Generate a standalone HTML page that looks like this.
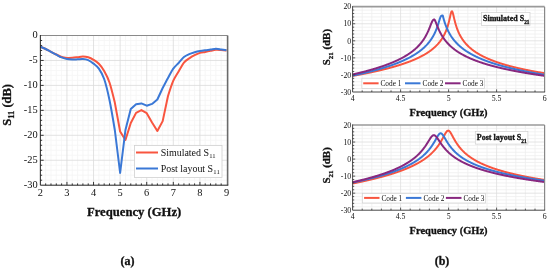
<!DOCTYPE html>
<html><head><meta charset="utf-8"><style>
html,body{margin:0;padding:0;background:#fff}
body{width:550px;height:269px;overflow:hidden}
svg{display:block}
.t{font-family:"Liberation Serif","Times New Roman",serif;fill:#111}
.b{font-weight:bold;stroke:#111;stroke-width:0.3px}
</style></head><body>
<svg width="550" height="269" viewBox="0 0 550 269">
<rect width="550" height="269" fill="#fff"/>
<path d="M45.67,35.5V185.2M50.99,35.5V185.2M56.31,35.5V185.2M61.62,35.5V185.2M72.26,35.5V185.2M77.58,35.5V185.2M82.9,35.5V185.2M88.22,35.5V185.2M98.85,35.5V185.2M104.17,35.5V185.2M109.49,35.5V185.2M114.81,35.5V185.2M125.45,35.5V185.2M130.77,35.5V185.2M136.08,35.5V185.2M141.4,35.5V185.2M152.04,35.5V185.2M157.36,35.5V185.2M162.68,35.5V185.2M168,35.5V185.2M178.63,35.5V185.2M183.95,35.5V185.2M189.27,35.5V185.2M194.59,35.5V185.2M205.23,35.5V185.2M210.54,35.5V185.2M215.86,35.5V185.2M221.18,35.5V185.2M40.35,40.49H227.6M40.35,45.48H227.6M40.35,50.47H227.6M40.35,55.46H227.6M40.35,65.44H227.6M40.35,70.43H227.6M40.35,75.42H227.6M40.35,80.41H227.6M40.35,90.39H227.6M40.35,95.38H227.6M40.35,100.37H227.6M40.35,105.36H227.6M40.35,115.34H227.6M40.35,120.33H227.6M40.35,125.32H227.6M40.35,130.31H227.6M40.35,140.29H227.6M40.35,145.28H227.6M40.35,150.27H227.6M40.35,155.26H227.6M40.35,165.24H227.6M40.35,170.23H227.6M40.35,175.22H227.6M40.35,180.21H227.6" stroke="#f5f5f5" stroke-width="0.8" fill="none"/>
<path d="M66.94,35.5V185.2M93.54,35.5V185.2M120.13,35.5V185.2M146.72,35.5V185.2M173.31,35.5V185.2M199.91,35.5V185.2M40.35,60.45H227.6M40.35,85.4H227.6M40.35,110.35H227.6M40.35,135.3H227.6M40.35,160.25H227.6" stroke="#dadada" stroke-width="0.8" fill="none"/>
<path d="M40.35,46.7 C40.35,46.7 43.9,48.15 45.67,49 C47.44,49.85 49.21,50.88 50.99,51.8 C52.76,52.72 54.53,53.63 56.31,54.5 C58.08,55.37 59.85,56.43 61.62,57 C63.4,57.57 65.17,57.77 66.94,57.9 C68.72,58.03 70.49,57.92 72.26,57.8 C74.03,57.68 75.81,57.42 77.58,57.2 C79.35,56.98 81.13,56.48 82.9,56.5 C84.67,56.52 86.44,56.75 88.22,57.3 C89.99,57.85 91.76,58.72 93.54,59.8 C95.31,60.88 97.08,61.93 98.85,63.8 C100.63,65.67 102.4,67.88 104.17,71 C105.95,74.12 107.72,77.23 109.49,82.5 C111.26,87.77 114.81,102.6 114.81,102.6 C114.81,102.6 120.13,131.5 120.13,131.5 C120.13,131.5 125.45,140 125.45,140 C125.45,140 130.77,123 130.77,123 C130.77,123 136.08,112.9 136.08,112.9 C136.08,112.9 141.4,110.1 141.4,110.1 C141.4,110.1 146.72,113.2 146.72,113.2 C146.72,113.2 152.04,122.5 152.04,122.5 C152.04,122.5 157.36,131 157.36,131 C157.36,131 162.68,121.1 162.68,121.1 C162.68,121.1 168,96 168,96 C168,96 171.54,84.8 173.31,80.7 C175.09,76.6 176.86,74.4 178.63,71.4 C180.41,68.4 182.18,64.87 183.95,62.7 C185.72,60.53 187.5,59.65 189.27,58.4 C191.04,57.15 192.82,56.12 194.59,55.2 C196.36,54.28 198.13,53.45 199.91,52.9 C201.68,52.35 203.45,52.25 205.23,51.9 C207,51.55 208.77,51.15 210.54,50.8 C212.32,50.45 214.09,49.93 215.86,49.8 C217.64,49.67 219.41,49.87 221.18,50 C222.95,50.13 226.5,50.6 226.5,50.6" stroke="#F8553F" stroke-width="2" fill="none" stroke-linejoin="round"/>
<path d="M40.35,46.7 C40.35,46.7 43.9,48.13 45.67,49 C47.44,49.87 49.21,50.95 50.99,51.9 C52.76,52.85 54.53,53.78 56.31,54.7 C58.08,55.62 59.85,56.67 61.62,57.4 C63.4,58.13 65.17,58.75 66.94,59.1 C68.72,59.45 70.49,59.47 72.26,59.5 C74.03,59.53 75.81,59.38 77.58,59.3 C79.35,59.22 81.13,58.87 82.9,59 C84.67,59.13 86.44,59.33 88.22,60.1 C89.99,60.87 91.76,62.18 93.54,63.6 C95.31,65.02 97.08,66.03 98.85,68.6 C100.63,71.17 102.4,73.77 104.17,79 C105.95,84.23 107.72,91.5 109.49,100 C111.26,108.5 114.81,130 114.81,130 C114.81,130 120.13,173 120.13,173 C120.13,173 125.45,130 125.45,130 C125.45,130 130.77,109 130.77,109 C130.77,109 136.08,104.2 136.08,104.2 C136.08,104.2 141.4,103.4 141.4,103.4 C141.4,103.4 146.72,105.7 146.72,105.7 C146.72,105.7 152.04,103.9 152.04,103.9 C152.04,103.9 157.36,99.5 157.36,99.5 C157.36,99.5 162.68,88 162.68,88 C162.68,88 166.22,81.13 168,77.9 C169.77,74.67 171.54,71.08 173.31,68.6 C175.09,66.12 176.86,64.92 178.63,63 C180.41,61.08 182.18,58.58 183.95,57.1 C185.72,55.62 187.5,54.9 189.27,54.1 C191.04,53.3 192.82,52.82 194.59,52.3 C196.36,51.78 198.13,51.35 199.91,51 C201.68,50.65 203.45,50.43 205.23,50.2 C207,49.97 208.77,49.83 210.54,49.6 C212.32,49.37 214.09,48.83 215.86,48.8 C217.64,48.77 219.41,49.17 221.18,49.4 C222.95,49.63 226.5,50.2 226.5,50.2" stroke="#3A78D6" stroke-width="2" fill="none" stroke-linejoin="round"/>
<rect x="134.5" y="145.5" width="87.5" height="32" fill="#fff" stroke="#d0d0d0" stroke-width="0.8"/>
<path d="M136,152.5H158" stroke="#F8553F" stroke-width="2"/>
<path d="M136,168.5H158" stroke="#3A78D6" stroke-width="2"/>
<text x="160.7" y="156.1" class="t" font-size="9.95">Simulated S<tspan font-size="6.6" dy="2.3" dx="0.2">11</tspan></text>
<text x="160.7" y="172.1" class="t" font-size="9.95">Post layout S<tspan font-size="6.6" dy="2.3" dx="0.2">11</tspan></text>
<path d="M40.35,35.5H227.6" stroke="#8a8a8a" stroke-width="1"/>
<path d="M227.6,35.5V185.2" stroke="#6a6a6a" stroke-width="1.6"/>
<path d="M40.35,35V185.2" stroke="#222" stroke-width="1"/>
<path d="M40.35,185.2H228.3" stroke="#222" stroke-width="1"/>
<path d="M40.35,40.49h1.8M40.35,45.48h1.8M40.35,50.47h1.8M40.35,55.46h1.8M40.35,60.45h3.3M40.35,65.44h1.8M40.35,70.43h1.8M40.35,75.42h1.8M40.35,80.41h1.8M40.35,85.4h3.3M40.35,90.39h1.8M40.35,95.38h1.8M40.35,100.37h1.8M40.35,105.36h1.8M40.35,110.35h3.3M40.35,115.34h1.8M40.35,120.33h1.8M40.35,125.32h1.8M40.35,130.31h1.8M40.35,135.3h3.3M40.35,140.29h1.8M40.35,145.28h1.8M40.35,150.27h1.8M40.35,155.26h1.8M40.35,160.25h3.3M40.35,165.24h1.8M40.35,170.23h1.8M40.35,175.22h1.8M40.35,180.21h1.8M45.67,185.2v-1.8M50.99,185.2v-1.8M56.31,185.2v-1.8M61.62,185.2v-1.8M66.94,185.2v-3.3M72.26,185.2v-1.8M77.58,185.2v-1.8M82.9,185.2v-1.8M88.22,185.2v-1.8M93.54,185.2v-3.3M98.85,185.2v-1.8M104.17,185.2v-1.8M109.49,185.2v-1.8M114.81,185.2v-1.8M120.13,185.2v-3.3M125.45,185.2v-1.8M130.77,185.2v-1.8M136.08,185.2v-1.8M141.4,185.2v-1.8M146.72,185.2v-3.3M152.04,185.2v-1.8M157.36,185.2v-1.8M162.68,185.2v-1.8M168,185.2v-1.8M173.31,185.2v-3.3M178.63,185.2v-1.8M183.95,185.2v-1.8M189.27,185.2v-1.8M194.59,185.2v-1.8M199.91,185.2v-3.3M205.23,185.2v-1.8M210.54,185.2v-1.8M215.86,185.2v-1.8M221.18,185.2v-1.8" stroke="#222" stroke-width="0.9"/>
<text x="37.7" y="38.1" class="t" font-size="10.4" text-anchor="end">0</text>
<text x="37.7" y="63.05" class="t" font-size="10.4" text-anchor="end">-5</text>
<text x="37.7" y="88" class="t" font-size="10.4" text-anchor="end">-10</text>
<text x="37.7" y="112.95" class="t" font-size="10.4" text-anchor="end">-15</text>
<text x="37.7" y="137.9" class="t" font-size="10.4" text-anchor="end">-20</text>
<text x="37.7" y="162.85" class="t" font-size="10.4" text-anchor="end">-25</text>
<text x="37.7" y="187.8" class="t" font-size="10.4" text-anchor="end">-30</text>
<text x="40.35" y="196.3" class="t" font-size="10.4" text-anchor="middle">2</text>
<text x="66.94" y="196.3" class="t" font-size="10.4" text-anchor="middle">3</text>
<text x="93.54" y="196.3" class="t" font-size="10.4" text-anchor="middle">4</text>
<text x="120.13" y="196.3" class="t" font-size="10.4" text-anchor="middle">5</text>
<text x="146.72" y="196.3" class="t" font-size="10.4" text-anchor="middle">6</text>
<text x="173.31" y="196.3" class="t" font-size="10.4" text-anchor="middle">7</text>
<text x="199.91" y="196.3" class="t" font-size="10.4" text-anchor="middle">8</text>
<text x="226.5" y="196.3" class="t" font-size="10.4" text-anchor="middle">9</text>
<text x="87" y="216.1" class="t b" font-size="12.65">Frequency (GHz)</text>
<text transform="translate(11.3,125.7) rotate(-90)" class="t b" font-size="12.5">S<tspan font-size="8.5" dy="3">11</tspan><tspan dy="-3"> (dB)</tspan></text>
<text x="127.6" y="264.6" class="t b" font-size="12" text-anchor="middle">(a)</text>
<path d="M362.2,6.7V92M371.8,6.7V92M381.4,6.7V92M391,6.7V92M410.2,6.7V92M419.8,6.7V92M429.4,6.7V92M439,6.7V92M458.2,6.7V92M467.8,6.7V92M477.4,6.7V92M487,6.7V92M506.2,6.7V92M515.8,6.7V92M525.4,6.7V92M535,6.7V92M352.6,88.59H544.6M352.6,85.18H544.6M352.6,81.76H544.6M352.6,78.35H544.6M352.6,71.53H544.6M352.6,68.12H544.6M352.6,64.7H544.6M352.6,61.29H544.6M352.6,54.47H544.6M352.6,51.06H544.6M352.6,47.64H544.6M352.6,44.23H544.6M352.6,37.41H544.6M352.6,34H544.6M352.6,30.58H544.6M352.6,27.17H544.6M352.6,20.35H544.6M352.6,16.94H544.6M352.6,13.52H544.6M352.6,10.11H544.6" stroke="#efefef" stroke-width="0.8" fill="none"/>
<path d="M400.6,6.7V92M448.6,6.7V92M496.6,6.7V92M352.6,74.94H544.6M352.6,57.88H544.6M352.6,40.82H544.6M352.6,23.76H544.6" stroke="#dedede" stroke-width="0.8" fill="none"/>
<path d="M352.6,75.89 L352.84,75.84 L353.08,75.8 L353.32,75.76 L353.56,75.72 L353.8,75.67 L354.04,75.63 L354.28,75.59 L354.52,75.54 L354.76,75.5 L355,75.46 L355.24,75.41 L355.48,75.37 L355.72,75.32 L355.96,75.28 L356.2,75.24 L356.44,75.19 L356.68,75.15 L356.92,75.1 L357.16,75.06 L357.4,75.01 L357.64,74.97 L357.88,74.93 L358.12,74.88 L358.36,74.84 L358.6,74.79 L358.84,74.75 L359.08,74.7 L359.32,74.65 L359.56,74.61 L359.8,74.56 L360.04,74.52 L360.28,74.47 L360.52,74.43 L360.76,74.38 L361,74.33 L361.24,74.29 L361.48,74.24 L361.72,74.2 L361.96,74.15 L362.2,74.1 L362.44,74.06 L362.68,74.01 L362.92,73.96 L363.16,73.92 L363.4,73.87 L363.64,73.82 L363.88,73.77 L364.12,73.73 L364.36,73.68 L364.6,73.63 L364.84,73.58 L365.08,73.54 L365.32,73.49 L365.56,73.44 L365.8,73.39 L366.04,73.34 L366.28,73.3 L366.52,73.25 L366.76,73.2 L367,73.15 L367.24,73.1 L367.48,73.05 L367.72,73 L367.96,72.95 L368.2,72.9 L368.44,72.85 L368.68,72.8 L368.92,72.75 L369.16,72.7 L369.4,72.65 L369.64,72.6 L369.88,72.55 L370.12,72.5 L370.36,72.45 L370.6,72.4 L370.84,72.35 L371.08,72.3 L371.32,72.25 L371.56,72.2 L371.8,72.15 L372.04,72.1 L372.28,72.04 L372.52,71.99 L372.76,71.94 L373,71.89 L373.24,71.84 L373.48,71.78 L373.72,71.73 L373.96,71.68 L374.2,71.63 L374.44,71.57 L374.68,71.52 L374.92,71.47 L375.16,71.41 L375.4,71.36 L375.64,71.31 L375.88,71.25 L376.12,71.2 L376.36,71.15 L376.6,71.09 L376.84,71.04 L377.08,70.98 L377.32,70.93 L377.56,70.87 L377.8,70.82 L378.04,70.76 L378.28,70.71 L378.52,70.65 L378.76,70.6 L379,70.54 L379.24,70.49 L379.48,70.43 L379.72,70.37 L379.96,70.32 L380.2,70.26 L380.44,70.2 L380.68,70.15 L380.92,70.09 L381.16,70.03 L381.4,69.98 L381.64,69.92 L381.88,69.86 L382.12,69.8 L382.36,69.74 L382.6,69.69 L382.84,69.63 L383.08,69.57 L383.32,69.51 L383.56,69.45 L383.8,69.39 L384.04,69.33 L384.28,69.27 L384.52,69.21 L384.76,69.15 L385,69.09 L385.24,69.03 L385.48,68.97 L385.72,68.91 L385.96,68.85 L386.2,68.79 L386.44,68.73 L386.68,68.67 L386.92,68.6 L387.16,68.54 L387.4,68.48 L387.64,68.42 L387.88,68.35 L388.12,68.29 L388.36,68.23 L388.6,68.17 L388.84,68.1 L389.08,68.04 L389.32,67.97 L389.56,67.91 L389.8,67.85 L390.04,67.78 L390.28,67.72 L390.52,67.65 L390.76,67.59 L391,67.52 L391.24,67.45 L391.48,67.39 L391.72,67.32 L391.96,67.26 L392.2,67.19 L392.44,67.12 L392.68,67.05 L392.92,66.99 L393.16,66.92 L393.4,66.85 L393.64,66.78 L393.88,66.71 L394.12,66.65 L394.36,66.58 L394.6,66.51 L394.84,66.44 L395.08,66.37 L395.32,66.3 L395.56,66.23 L395.8,66.16 L396.04,66.09 L396.28,66.02 L396.52,65.94 L396.76,65.87 L397,65.8 L397.24,65.73 L397.48,65.65 L397.72,65.58 L397.96,65.51 L398.2,65.44 L398.44,65.36 L398.68,65.29 L398.92,65.21 L399.16,65.14 L399.4,65.06 L399.64,64.99 L399.88,64.91 L400.12,64.84 L400.36,64.76 L400.6,64.68 L400.84,64.61 L401.08,64.53 L401.32,64.45 L401.56,64.37 L401.8,64.29 L402.04,64.21 L402.28,64.14 L402.52,64.06 L402.76,63.98 L403,63.9 L403.24,63.82 L403.48,63.73 L403.72,63.65 L403.96,63.57 L404.2,63.49 L404.44,63.41 L404.68,63.32 L404.92,63.24 L405.16,63.16 L405.4,63.07 L405.64,62.99 L405.88,62.9 L406.12,62.82 L406.36,62.73 L406.6,62.65 L406.84,62.56 L407.08,62.47 L407.32,62.39 L407.56,62.3 L407.8,62.21 L408.04,62.12 L408.28,62.03 L408.52,61.94 L408.76,61.85 L409,61.76 L409.24,61.67 L409.48,61.58 L409.72,61.49 L409.96,61.39 L410.2,61.3 L410.44,61.21 L410.68,61.11 L410.92,61.02 L411.16,60.92 L411.4,60.83 L411.64,60.73 L411.88,60.63 L412.12,60.54 L412.36,60.44 L412.6,60.34 L412.84,60.24 L413.08,60.14 L413.32,60.04 L413.56,59.94 L413.8,59.84 L414.04,59.74 L414.28,59.63 L414.52,59.53 L414.76,59.43 L415,59.32 L415.24,59.22 L415.48,59.11 L415.72,59 L415.96,58.9 L416.2,58.79 L416.44,58.68 L416.68,58.57 L416.92,58.46 L417.16,58.35 L417.4,58.24 L417.64,58.13 L417.88,58.01 L418.12,57.9 L418.36,57.79 L418.6,57.67 L418.84,57.56 L419.08,57.44 L419.32,57.32 L419.56,57.2 L419.8,57.08 L420.04,56.96 L420.28,56.84 L420.52,56.72 L420.76,56.6 L421,56.47 L421.24,56.35 L421.48,56.22 L421.72,56.1 L421.96,55.97 L422.2,55.84 L422.44,55.71 L422.68,55.58 L422.92,55.45 L423.16,55.32 L423.4,55.18 L423.64,55.05 L423.88,54.91 L424.12,54.77 L424.36,54.64 L424.6,54.5 L424.84,54.36 L425.08,54.21 L425.32,54.07 L425.56,53.93 L425.8,53.78 L426.04,53.64 L426.28,53.49 L426.52,53.34 L426.76,53.19 L427,53.03 L427.24,52.88 L427.48,52.73 L427.72,52.57 L427.96,52.41 L428.2,52.25 L428.44,52.09 L428.68,51.93 L428.92,51.76 L429.16,51.6 L429.4,51.43 L429.64,51.26 L429.88,51.09 L430.12,50.92 L430.36,50.74 L430.6,50.56 L430.84,50.39 L431.08,50.21 L431.32,50.02 L431.56,49.84 L431.8,49.65 L432.04,49.46 L432.28,49.27 L432.52,49.08 L432.76,48.88 L433,48.68 L433.24,48.48 L433.48,48.28 L433.72,48.07 L433.96,47.86 L434.2,47.65 L434.39,47.48 L434.44,47.44 L434.68,47.22 L434.92,47 L435.16,46.78 L435.4,46.55 L435.64,46.33 L435.88,46.09 L436.12,45.86 L436.36,45.62 L436.6,45.38 L436.84,45.13 L437.08,44.88 L437.32,44.62 L437.56,44.37 L437.8,44.1 L438.04,43.84 L438.28,43.57 L438.52,43.29 L438.76,43.01 L439,42.72 L439.24,42.43 L439.48,42.14 L439.72,41.83 L439.96,41.53 L440.2,41.21 L440.44,40.89 L440.68,40.57 L440.92,40.24 L441.16,39.9 L441.4,39.55 L441.64,39.2 L441.88,38.83 L442.12,38.46 L442.36,38.08 L442.6,37.7 L442.74,37.46 L442.84,37.3 L443.08,36.89 L443.32,36.47 L443.56,36.05 L443.8,35.6 L444.04,35.15 L444.28,34.69 L444.52,34.21 L444.76,33.72 L445,33.21 L445.24,32.69 L445.48,32.14 L445.72,31.59 L445.96,31.01 L446.2,30.41 L446.44,29.79 L446.68,29.15 L446.92,28.49 L447.16,27.79 L447.4,27.08 L447.64,26.33 L447.88,25.55 L448.12,24.74 L448.36,23.89 L448.6,23.01 L448.84,22.08 L449.08,21.13 L449.32,20.13 L449.56,19.1 L449.8,18.05 L450.04,16.97 L450.28,15.89 L450.52,14.83 L450.76,13.83 L451,12.93 L451.24,12.18 L451.48,11.64 L451.72,11.35 L451.86,11.31 L451.96,11.33 L452.2,11.55 L452.44,12 L452.68,12.65 L452.92,13.45 L453.16,14.36 L453.4,15.34 L453.64,16.35 L453.88,17.37 L454.12,18.39 L454.36,19.38 L454.6,20.36 L454.84,21.3 L455.08,22.22 L455.32,23.1 L455.56,23.95 L455.8,24.76 L456.04,25.55 L456.28,26.31 L456.52,27.04 L456.76,27.74 L457,28.42 L457.24,29.07 L457.48,29.71 L457.72,30.32 L457.96,30.91 L458.2,31.48 L458.44,32.03 L458.68,32.57 L458.92,33.09 L459.16,33.59 L459.4,34.09 L459.64,34.56 L459.88,35.03 L460.12,35.48 L460.36,35.92 L460.6,36.35 L460.84,36.77 L461.08,37.17 L461.32,37.57 L461.56,37.96 L461.8,38.34 L462.04,38.71 L462.28,39.08 L462.52,39.43 L462.76,39.78 L463,40.12 L463.24,40.45 L463.48,40.78 L463.72,41.1 L463.96,41.42 L464.2,41.73 L464.44,42.03 L464.68,42.33 L464.92,42.62 L465.16,42.9 L465.4,43.19 L465.64,43.46 L465.88,43.74 L466.12,44 L466.36,44.27 L466.6,44.53 L466.84,44.78 L467.08,45.03 L467.32,45.28 L467.56,45.52 L467.8,45.76 L468.04,46 L468.28,46.23 L468.52,46.46 L468.76,46.69 L469,46.91 L469.24,47.13 L469.48,47.35 L469.72,47.56 L469.96,47.77 L470.2,47.98 L470.44,48.19 L470.68,48.39 L470.92,48.59 L471.16,48.79 L471.4,48.99 L471.64,49.18 L471.88,49.37 L472.12,49.56 L472.36,49.74 L472.6,49.93 L472.84,50.11 L473.08,50.29 L473.32,50.47 L473.56,50.65 L473.8,50.82 L474.04,50.99 L474.28,51.16 L474.52,51.33 L474.76,51.5 L475,51.66 L475.24,51.82 L475.48,51.99 L475.72,52.15 L475.96,52.3 L476.2,52.46 L476.44,52.62 L476.68,52.77 L476.92,52.92 L477.16,53.07 L477.4,53.22 L477.64,53.37 L477.88,53.52 L478.12,53.66 L478.36,53.8 L478.6,53.95 L478.84,54.09 L479.08,54.23 L479.32,54.37 L479.56,54.5 L479.8,54.64 L480.04,54.78 L480.28,54.91 L480.52,55.04 L480.76,55.17 L481,55.3 L481.24,55.43 L481.48,55.56 L481.72,55.69 L481.96,55.82 L482.2,55.94 L482.44,56.06 L482.68,56.19 L482.92,56.31 L483.16,56.43 L483.4,56.55 L483.64,56.67 L483.88,56.79 L484.12,56.91 L484.36,57.02 L484.6,57.14 L484.84,57.25 L485.08,57.37 L485.32,57.48 L485.56,57.59 L485.8,57.71 L486.04,57.82 L486.28,57.93 L486.52,58.04 L486.76,58.14 L487,58.25 L487.24,58.36 L487.48,58.46 L487.72,58.57 L487.96,58.67 L488.2,58.78 L488.44,58.88 L488.68,58.98 L488.92,59.09 L489.16,59.19 L489.4,59.29 L489.64,59.39 L489.88,59.49 L490.12,59.59 L490.36,59.68 L490.6,59.78 L490.84,59.88 L491.08,59.97 L491.32,60.07 L491.56,60.17 L491.8,60.26 L492.04,60.35 L492.28,60.45 L492.52,60.54 L492.76,60.63 L493,60.72 L493.24,60.81 L493.48,60.9 L493.72,60.99 L493.96,61.08 L494.2,61.17 L494.44,61.26 L494.68,61.35 L494.92,61.44 L495.16,61.52 L495.4,61.61 L495.64,61.69 L495.88,61.78 L496.12,61.86 L496.36,61.95 L496.6,62.03 L496.84,62.12 L497.08,62.2 L497.32,62.28 L497.56,62.36 L497.8,62.45 L498.04,62.53 L498.28,62.61 L498.52,62.69 L498.76,62.77 L499,62.85 L499.24,62.93 L499.48,63.01 L499.72,63.08 L499.96,63.16 L500.2,63.24 L500.44,63.32 L500.68,63.39 L500.92,63.47 L501.16,63.54 L501.4,63.62 L501.64,63.7 L501.88,63.77 L502.12,63.84 L502.36,63.92 L502.6,63.99 L502.84,64.07 L503.08,64.14 L503.32,64.21 L503.56,64.28 L503.8,64.36 L504.04,64.43 L504.28,64.5 L504.52,64.57 L504.76,64.64 L505,64.71 L505.24,64.78 L505.48,64.85 L505.72,64.92 L505.96,64.99 L506.2,65.06 L506.44,65.12 L506.68,65.19 L506.92,65.26 L507.16,65.33 L507.4,65.39 L507.64,65.46 L507.88,65.53 L508.12,65.59 L508.36,65.66 L508.6,65.72 L508.84,65.79 L509.08,65.85 L509.32,65.92 L509.56,65.98 L509.8,66.05 L510.04,66.11 L510.28,66.18 L510.52,66.24 L510.76,66.3 L511,66.36 L511.24,66.43 L511.48,66.49 L511.72,66.55 L511.96,66.61 L512.2,66.67 L512.44,66.74 L512.68,66.8 L512.92,66.86 L513.16,66.92 L513.4,66.98 L513.64,67.04 L513.88,67.1 L514.12,67.16 L514.36,67.22 L514.6,67.28 L514.84,67.33 L515.08,67.39 L515.32,67.45 L515.56,67.51 L515.8,67.57 L516.04,67.62 L516.28,67.68 L516.52,67.74 L516.76,67.8 L517,67.85 L517.24,67.91 L517.48,67.97 L517.72,68.02 L517.96,68.08 L518.2,68.13 L518.44,68.19 L518.68,68.24 L518.92,68.3 L519.16,68.35 L519.4,68.41 L519.64,68.46 L519.88,68.52 L520.12,68.57 L520.36,68.62 L520.6,68.68 L520.84,68.73 L521.08,68.78 L521.32,68.84 L521.56,68.89 L521.8,68.94 L522.04,69 L522.28,69.05 L522.52,69.1 L522.76,69.15 L523,69.2 L523.24,69.26 L523.48,69.31 L523.72,69.36 L523.96,69.41 L524.2,69.46 L524.44,69.51 L524.68,69.56 L524.92,69.61 L525.16,69.66 L525.4,69.71 L525.64,69.76 L525.88,69.81 L526.12,69.86 L526.36,69.91 L526.6,69.96 L526.84,70.01 L527.08,70.06 L527.32,70.1 L527.56,70.15 L527.8,70.2 L528.04,70.25 L528.28,70.3 L528.52,70.35 L528.76,70.39 L529,70.44 L529.24,70.49 L529.48,70.53 L529.72,70.58 L529.96,70.63 L530.2,70.68 L530.44,70.72 L530.68,70.77 L530.92,70.81 L531.16,70.86 L531.4,70.91 L531.64,70.95 L531.88,71 L532.12,71.04 L532.36,71.09 L532.6,71.13 L532.84,71.18 L533.08,71.22 L533.32,71.27 L533.56,71.31 L533.8,71.36 L534.04,71.4 L534.28,71.45 L534.52,71.49 L534.76,71.54 L535,71.58 L535.24,71.62 L535.48,71.67 L535.72,71.71 L535.96,71.75 L536.2,71.8 L536.44,71.84 L536.68,71.88 L536.92,71.93 L537.16,71.97 L537.4,72.01 L537.64,72.05 L537.88,72.1 L538.12,72.14 L538.36,72.18 L538.6,72.22 L538.84,72.26 L539.08,72.31 L539.32,72.35 L539.56,72.39 L539.8,72.43 L540.04,72.47 L540.28,72.51 L540.52,72.55 L540.76,72.59 L541,72.64 L541.24,72.68 L541.48,72.72 L541.72,72.76 L541.96,72.8 L542.2,72.84 L542.44,72.88 L542.68,72.92 L542.92,72.96 L543.16,73 L543.4,73.04 L543.64,73.08 L543.88,73.12 L544.12,73.16 L544.36,73.19 L544.6,73.23" stroke="#F8553F" stroke-width="2" fill="none" stroke-linejoin="round"/>
<path d="M352.6,75.6 L352.84,75.55 L353.08,75.5 L353.32,75.45 L353.56,75.4 L353.8,75.34 L354.04,75.29 L354.28,75.24 L354.52,75.19 L354.76,75.14 L355,75.09 L355.24,75.03 L355.48,74.98 L355.72,74.93 L355.96,74.88 L356.2,74.83 L356.44,74.77 L356.68,74.72 L356.92,74.67 L357.16,74.61 L357.4,74.56 L357.64,74.51 L357.88,74.45 L358.12,74.4 L358.36,74.35 L358.6,74.29 L358.84,74.24 L359.08,74.19 L359.32,74.13 L359.56,74.08 L359.8,74.02 L360.04,73.97 L360.28,73.91 L360.52,73.86 L360.76,73.8 L361,73.75 L361.24,73.69 L361.48,73.64 L361.72,73.58 L361.96,73.53 L362.2,73.47 L362.44,73.42 L362.68,73.36 L362.92,73.3 L363.16,73.25 L363.4,73.19 L363.64,73.13 L363.88,73.08 L364.12,73.02 L364.36,72.96 L364.6,72.91 L364.84,72.85 L365.08,72.79 L365.32,72.73 L365.56,72.68 L365.8,72.62 L366.04,72.56 L366.28,72.5 L366.52,72.44 L366.76,72.38 L367,72.32 L367.24,72.27 L367.48,72.21 L367.72,72.15 L367.96,72.09 L368.2,72.03 L368.44,71.97 L368.68,71.91 L368.92,71.85 L369.16,71.79 L369.4,71.73 L369.64,71.67 L369.88,71.61 L370.12,71.54 L370.36,71.48 L370.6,71.42 L370.84,71.36 L371.08,71.3 L371.32,71.24 L371.56,71.17 L371.8,71.11 L372.04,71.05 L372.28,70.99 L372.52,70.92 L372.76,70.86 L373,70.8 L373.24,70.73 L373.48,70.67 L373.72,70.61 L373.96,70.54 L374.2,70.48 L374.44,70.41 L374.68,70.35 L374.92,70.28 L375.16,70.22 L375.4,70.15 L375.64,70.09 L375.88,70.02 L376.12,69.96 L376.36,69.89 L376.6,69.82 L376.84,69.76 L377.08,69.69 L377.32,69.62 L377.56,69.55 L377.8,69.49 L378.04,69.42 L378.28,69.35 L378.52,69.28 L378.76,69.22 L379,69.15 L379.24,69.08 L379.48,69.01 L379.72,68.94 L379.96,68.87 L380.2,68.8 L380.44,68.73 L380.68,68.66 L380.92,68.59 L381.16,68.52 L381.4,68.45 L381.64,68.38 L381.88,68.3 L382.12,68.23 L382.36,68.16 L382.6,68.09 L382.84,68.01 L383.08,67.94 L383.32,67.87 L383.56,67.8 L383.8,67.72 L384.04,67.65 L384.28,67.57 L384.52,67.5 L384.76,67.42 L385,67.35 L385.24,67.27 L385.48,67.2 L385.72,67.12 L385.96,67.05 L386.2,66.97 L386.44,66.89 L386.68,66.81 L386.92,66.74 L387.16,66.66 L387.4,66.58 L387.64,66.5 L387.88,66.42 L388.12,66.35 L388.36,66.27 L388.6,66.19 L388.84,66.11 L389.08,66.03 L389.32,65.95 L389.56,65.86 L389.8,65.78 L390.04,65.7 L390.28,65.62 L390.52,65.54 L390.76,65.45 L391,65.37 L391.24,65.29 L391.48,65.2 L391.72,65.12 L391.96,65.04 L392.2,64.95 L392.44,64.86 L392.68,64.78 L392.92,64.69 L393.16,64.61 L393.4,64.52 L393.64,64.43 L393.88,64.34 L394.12,64.26 L394.36,64.17 L394.6,64.08 L394.84,63.99 L395.08,63.9 L395.32,63.81 L395.56,63.72 L395.8,63.63 L396.04,63.54 L396.28,63.45 L396.52,63.35 L396.76,63.26 L397,63.17 L397.24,63.07 L397.48,62.98 L397.72,62.89 L397.96,62.79 L398.2,62.69 L398.44,62.6 L398.68,62.5 L398.92,62.41 L399.16,62.31 L399.4,62.21 L399.64,62.11 L399.88,62.01 L400.12,61.91 L400.36,61.81 L400.6,61.71 L400.84,61.61 L401.08,61.51 L401.32,61.41 L401.56,61.3 L401.8,61.2 L402.04,61.1 L402.28,60.99 L402.52,60.89 L402.76,60.78 L403,60.67 L403.24,60.57 L403.48,60.46 L403.72,60.35 L403.96,60.24 L404.2,60.13 L404.44,60.02 L404.68,59.91 L404.92,59.8 L405.16,59.69 L405.4,59.58 L405.64,59.46 L405.88,59.35 L406.12,59.23 L406.36,59.12 L406.6,59 L406.84,58.88 L407.08,58.77 L407.32,58.65 L407.56,58.53 L407.8,58.41 L408.04,58.29 L408.28,58.16 L408.52,58.04 L408.76,57.92 L409,57.79 L409.24,57.67 L409.48,57.54 L409.72,57.42 L409.96,57.29 L410.2,57.16 L410.44,57.03 L410.68,56.9 L410.92,56.77 L411.16,56.64 L411.4,56.5 L411.64,56.37 L411.88,56.23 L412.12,56.1 L412.36,55.96 L412.6,55.82 L412.84,55.68 L413.08,55.54 L413.32,55.4 L413.56,55.26 L413.8,55.11 L414.04,54.97 L414.28,54.82 L414.52,54.67 L414.76,54.53 L415,54.38 L415.24,54.22 L415.48,54.07 L415.72,53.92 L415.96,53.76 L416.2,53.61 L416.44,53.45 L416.68,53.29 L416.92,53.13 L417.16,52.97 L417.4,52.8 L417.64,52.64 L417.88,52.47 L418.12,52.3 L418.36,52.13 L418.6,51.96 L418.84,51.79 L419.08,51.62 L419.32,51.44 L419.56,51.26 L419.8,51.08 L420.04,50.9 L420.28,50.72 L420.52,50.53 L420.76,50.34 L421,50.15 L421.24,49.96 L421.48,49.77 L421.72,49.57 L421.96,49.37 L422.2,49.17 L422.44,48.97 L422.68,48.77 L422.92,48.56 L423.16,48.35 L423.4,48.14 L423.64,47.92 L423.88,47.7 L424.12,47.48 L424.36,47.26 L424.6,47.03 L424.84,46.81 L425.08,46.57 L425.32,46.34 L425.56,46.1 L425.8,45.86 L426.04,45.61 L426.28,45.37 L426.52,45.11 L426.76,44.86 L427,44.6 L427.24,44.34 L427.48,44.07 L427.72,43.8 L427.96,43.52 L428.2,43.24 L428.44,42.96 L428.68,42.67 L428.92,42.38 L429.16,42.08 L429.4,41.77 L429.64,41.46 L429.88,41.15 L430.12,40.83 L430.36,40.5 L430.6,40.17 L430.84,39.83 L431.08,39.48 L431.32,39.13 L431.56,38.77 L431.8,38.4 L432.04,38.02 L432.28,37.64 L432.52,37.25 L432.76,36.84 L433,36.43 L433.24,36.01 L433.48,35.58 L433.72,35.14 L433.96,34.69 L434.2,34.22 L434.39,33.84 L434.44,33.74 L434.68,33.25 L434.92,32.75 L435.16,32.23 L435.4,31.7 L435.64,31.15 L435.88,30.59 L436.12,30 L436.36,29.4 L436.6,28.78 L436.84,28.14 L437.08,27.49 L437.32,26.81 L437.56,26.1 L437.8,25.38 L438.04,24.64 L438.28,23.88 L438.52,23.1 L438.76,22.31 L439,21.51 L439.24,20.71 L439.48,19.92 L439.72,19.16 L439.96,18.44 L440.2,17.77 L440.44,17.19 L440.68,16.69 L440.92,16.3 L441.16,16.01 L441.4,15.8 L441.64,15.67 L441.88,15.6 L442.12,15.57 L442.36,15.56 L442.6,15.55 L442.74,15.55 L442.84,15.87 L443.08,16.76 L443.32,17.66 L443.56,18.55 L443.8,19.41 L444.04,20.25 L444.28,21.06 L444.52,21.84 L444.76,22.59 L445,23.32 L445.24,24.03 L445.48,24.71 L445.72,25.37 L445.96,26 L446.2,26.62 L446.44,27.22 L446.68,27.8 L446.92,28.37 L447.16,28.92 L447.4,29.45 L447.64,29.97 L447.88,30.47 L448.12,30.97 L448.36,31.45 L448.6,31.91 L448.84,32.37 L449.08,32.81 L449.32,33.25 L449.56,33.67 L449.8,34.09 L450.04,34.5 L450.28,34.89 L450.52,35.28 L450.76,35.66 L451,36.04 L451.24,36.4 L451.48,36.76 L451.72,37.11 L451.86,37.32 L451.96,37.46 L452.2,37.8 L452.44,38.13 L452.68,38.46 L452.92,38.78 L453.16,39.09 L453.4,39.4 L453.64,39.71 L453.88,40.01 L454.12,40.3 L454.36,40.59 L454.6,40.88 L454.84,41.16 L455.08,41.44 L455.32,41.71 L455.56,41.98 L455.8,42.24 L456.04,42.5 L456.28,42.76 L456.52,43.01 L456.76,43.26 L457,43.51 L457.24,43.75 L457.48,43.99 L457.72,44.23 L457.96,44.46 L458.2,44.69 L458.44,44.92 L458.68,45.14 L458.92,45.36 L459.16,45.58 L459.4,45.8 L459.64,46.01 L459.88,46.22 L460.12,46.43 L460.36,46.64 L460.6,46.84 L460.84,47.04 L461.08,47.24 L461.32,47.44 L461.56,47.64 L461.8,47.83 L462.04,48.02 L462.28,48.21 L462.52,48.39 L462.76,48.58 L463,48.76 L463.24,48.94 L463.48,49.12 L463.72,49.3 L463.96,49.47 L464.2,49.65 L464.44,49.82 L464.68,49.99 L464.92,50.16 L465.16,50.32 L465.4,50.49 L465.64,50.65 L465.88,50.82 L466.12,50.98 L466.36,51.14 L466.6,51.29 L466.84,51.45 L467.08,51.61 L467.32,51.76 L467.56,51.91 L467.8,52.06 L468.04,52.21 L468.28,52.36 L468.52,52.51 L468.76,52.65 L469,52.8 L469.24,52.94 L469.48,53.09 L469.72,53.23 L469.96,53.37 L470.2,53.51 L470.44,53.64 L470.68,53.78 L470.92,53.92 L471.16,54.05 L471.4,54.18 L471.64,54.32 L471.88,54.45 L472.12,54.58 L472.36,54.71 L472.6,54.84 L472.84,54.96 L473.08,55.09 L473.32,55.22 L473.56,55.34 L473.8,55.47 L474.04,55.59 L474.28,55.71 L474.52,55.83 L474.76,55.95 L475,56.07 L475.24,56.19 L475.48,56.31 L475.72,56.43 L475.96,56.54 L476.2,56.66 L476.44,56.77 L476.68,56.89 L476.92,57 L477.16,57.11 L477.4,57.22 L477.64,57.34 L477.88,57.45 L478.12,57.56 L478.36,57.66 L478.6,57.77 L478.84,57.88 L479.08,57.99 L479.32,58.09 L479.56,58.2 L479.8,58.3 L480.04,58.41 L480.28,58.51 L480.52,58.62 L480.76,58.72 L481,58.82 L481.24,58.92 L481.48,59.02 L481.72,59.12 L481.96,59.22 L482.2,59.32 L482.44,59.42 L482.68,59.51 L482.92,59.61 L483.16,59.71 L483.4,59.8 L483.64,59.9 L483.88,59.99 L484.12,60.09 L484.36,60.18 L484.6,60.28 L484.84,60.37 L485.08,60.46 L485.32,60.55 L485.56,60.64 L485.8,60.74 L486.04,60.83 L486.28,60.92 L486.52,61 L486.76,61.09 L487,61.18 L487.24,61.27 L487.48,61.36 L487.72,61.44 L487.96,61.53 L488.2,61.62 L488.44,61.7 L488.68,61.79 L488.92,61.87 L489.16,61.96 L489.4,62.04 L489.64,62.12 L489.88,62.21 L490.12,62.29 L490.36,62.37 L490.6,62.45 L490.84,62.54 L491.08,62.62 L491.32,62.7 L491.56,62.78 L491.8,62.86 L492.04,62.94 L492.28,63.02 L492.52,63.1 L492.76,63.17 L493,63.25 L493.24,63.33 L493.48,63.41 L493.72,63.48 L493.96,63.56 L494.2,63.64 L494.44,63.71 L494.68,63.79 L494.92,63.86 L495.16,63.94 L495.4,64.01 L495.64,64.09 L495.88,64.16 L496.12,64.24 L496.36,64.31 L496.6,64.38 L496.84,64.45 L497.08,64.53 L497.32,64.6 L497.56,64.67 L497.8,64.74 L498.04,64.81 L498.28,64.88 L498.52,64.95 L498.76,65.02 L499,65.09 L499.24,65.16 L499.48,65.23 L499.72,65.3 L499.96,65.37 L500.2,65.44 L500.44,65.51 L500.68,65.57 L500.92,65.64 L501.16,65.71 L501.4,65.78 L501.64,65.84 L501.88,65.91 L502.12,65.98 L502.36,66.04 L502.6,66.11 L502.84,66.17 L503.08,66.24 L503.32,66.3 L503.56,66.37 L503.8,66.43 L504.04,66.5 L504.28,66.56 L504.52,66.62 L504.76,66.69 L505,66.75 L505.24,66.81 L505.48,66.88 L505.72,66.94 L505.96,67 L506.2,67.06 L506.44,67.12 L506.68,67.18 L506.92,67.25 L507.16,67.31 L507.4,67.37 L507.64,67.43 L507.88,67.49 L508.12,67.55 L508.36,67.61 L508.6,67.67 L508.84,67.73 L509.08,67.79 L509.32,67.85 L509.56,67.9 L509.8,67.96 L510.04,68.02 L510.28,68.08 L510.52,68.14 L510.76,68.2 L511,68.25 L511.24,68.31 L511.48,68.37 L511.72,68.42 L511.96,68.48 L512.2,68.54 L512.44,68.59 L512.68,68.65 L512.92,68.71 L513.16,68.76 L513.4,68.82 L513.64,68.87 L513.88,68.93 L514.12,68.98 L514.36,69.04 L514.6,69.09 L514.84,69.15 L515.08,69.2 L515.32,69.26 L515.56,69.31 L515.8,69.36 L516.04,69.42 L516.28,69.47 L516.52,69.52 L516.76,69.58 L517,69.63 L517.24,69.68 L517.48,69.73 L517.72,69.79 L517.96,69.84 L518.2,69.89 L518.44,69.94 L518.68,69.99 L518.92,70.05 L519.16,70.1 L519.4,70.15 L519.64,70.2 L519.88,70.25 L520.12,70.3 L520.36,70.35 L520.6,70.4 L520.84,70.45 L521.08,70.5 L521.32,70.55 L521.56,70.6 L521.8,70.65 L522.04,70.7 L522.28,70.75 L522.52,70.8 L522.76,70.85 L523,70.9 L523.24,70.95 L523.48,70.99 L523.72,71.04 L523.96,71.09 L524.2,71.14 L524.44,71.19 L524.68,71.23 L524.92,71.28 L525.16,71.33 L525.4,71.38 L525.64,71.42 L525.88,71.47 L526.12,71.52 L526.36,71.56 L526.6,71.61 L526.84,71.66 L527.08,71.7 L527.32,71.75 L527.56,71.8 L527.8,71.84 L528.04,71.89 L528.28,71.93 L528.52,71.98 L528.76,72.03 L529,72.07 L529.24,72.12 L529.48,72.16 L529.72,72.21 L529.96,72.25 L530.2,72.3 L530.44,72.34 L530.68,72.38 L530.92,72.43 L531.16,72.47 L531.4,72.52 L531.64,72.56 L531.88,72.61 L532.12,72.65 L532.36,72.69 L532.6,72.74 L532.84,72.78 L533.08,72.82 L533.32,72.87 L533.56,72.91 L533.8,72.95 L534.04,72.99 L534.28,73.04 L534.52,73.08 L534.76,73.12 L535,73.16 L535.24,73.21 L535.48,73.25 L535.72,73.29 L535.96,73.33 L536.2,73.37 L536.44,73.42 L536.68,73.46 L536.92,73.5 L537.16,73.54 L537.4,73.58 L537.64,73.62 L537.88,73.66 L538.12,73.7 L538.36,73.75 L538.6,73.79 L538.84,73.83 L539.08,73.87 L539.32,73.91 L539.56,73.95 L539.8,73.99 L540.04,74.03 L540.28,74.07 L540.52,74.11 L540.76,74.15 L541,74.19 L541.24,74.23 L541.48,74.27 L541.72,74.31 L541.96,74.35 L542.2,74.38 L542.44,74.42 L542.68,74.46 L542.92,74.5 L543.16,74.54 L543.4,74.58 L543.64,74.62 L543.88,74.66 L544.12,74.69 L544.36,74.73 L544.6,74.77" stroke="#3A78D6" stroke-width="2" fill="none" stroke-linejoin="round"/>
<path d="M352.6,74.46 L352.84,74.41 L353.08,74.35 L353.32,74.3 L353.56,74.24 L353.8,74.19 L354.04,74.13 L354.28,74.08 L354.52,74.02 L354.76,73.96 L355,73.91 L355.24,73.85 L355.48,73.8 L355.72,73.74 L355.96,73.68 L356.2,73.63 L356.44,73.57 L356.68,73.51 L356.92,73.46 L357.16,73.4 L357.4,73.34 L357.64,73.28 L357.88,73.23 L358.12,73.17 L358.36,73.11 L358.6,73.05 L358.84,72.99 L359.08,72.93 L359.32,72.88 L359.56,72.82 L359.8,72.76 L360.04,72.7 L360.28,72.64 L360.52,72.58 L360.76,72.52 L361,72.46 L361.24,72.4 L361.48,72.34 L361.72,72.28 L361.96,72.22 L362.2,72.16 L362.44,72.1 L362.68,72.03 L362.92,71.97 L363.16,71.91 L363.4,71.85 L363.64,71.79 L363.88,71.73 L364.12,71.66 L364.36,71.6 L364.6,71.54 L364.84,71.48 L365.08,71.41 L365.32,71.35 L365.56,71.29 L365.8,71.22 L366.04,71.16 L366.28,71.09 L366.52,71.03 L366.76,70.97 L367,70.9 L367.24,70.84 L367.48,70.77 L367.72,70.71 L367.96,70.64 L368.2,70.57 L368.44,70.51 L368.68,70.44 L368.92,70.38 L369.16,70.31 L369.4,70.24 L369.64,70.18 L369.88,70.11 L370.12,70.04 L370.36,69.97 L370.6,69.91 L370.84,69.84 L371.08,69.77 L371.32,69.7 L371.56,69.63 L371.8,69.56 L372.04,69.49 L372.28,69.42 L372.52,69.35 L372.76,69.28 L373,69.21 L373.24,69.14 L373.48,69.07 L373.72,69 L373.96,68.93 L374.2,68.86 L374.44,68.79 L374.68,68.71 L374.92,68.64 L375.16,68.57 L375.4,68.5 L375.64,68.42 L375.88,68.35 L376.12,68.28 L376.36,68.2 L376.6,68.13 L376.84,68.05 L377.08,67.98 L377.32,67.9 L377.56,67.83 L377.8,67.75 L378.04,67.68 L378.28,67.6 L378.52,67.52 L378.76,67.45 L379,67.37 L379.24,67.29 L379.48,67.21 L379.72,67.14 L379.96,67.06 L380.2,66.98 L380.44,66.9 L380.68,66.82 L380.92,66.74 L381.16,66.66 L381.4,66.58 L381.64,66.5 L381.88,66.42 L382.12,66.34 L382.36,66.25 L382.6,66.17 L382.84,66.09 L383.08,66.01 L383.32,65.92 L383.56,65.84 L383.8,65.76 L384.04,65.67 L384.28,65.59 L384.52,65.5 L384.76,65.42 L385,65.33 L385.24,65.25 L385.48,65.16 L385.72,65.07 L385.96,64.98 L386.2,64.9 L386.44,64.81 L386.68,64.72 L386.92,64.63 L387.16,64.54 L387.4,64.45 L387.64,64.36 L387.88,64.27 L388.12,64.18 L388.36,64.09 L388.6,64 L388.84,63.9 L389.08,63.81 L389.32,63.72 L389.56,63.62 L389.8,63.53 L390.04,63.43 L390.28,63.34 L390.52,63.24 L390.76,63.15 L391,63.05 L391.24,62.95 L391.48,62.85 L391.72,62.76 L391.96,62.66 L392.2,62.56 L392.44,62.46 L392.68,62.36 L392.92,62.26 L393.16,62.15 L393.4,62.05 L393.64,61.95 L393.88,61.85 L394.12,61.74 L394.36,61.64 L394.6,61.53 L394.84,61.43 L395.08,61.32 L395.32,61.22 L395.56,61.11 L395.8,61 L396.04,60.89 L396.28,60.78 L396.52,60.67 L396.76,60.56 L397,60.45 L397.24,60.34 L397.48,60.23 L397.72,60.11 L397.96,60 L398.2,59.88 L398.44,59.77 L398.68,59.65 L398.92,59.53 L399.16,59.42 L399.4,59.3 L399.64,59.18 L399.88,59.06 L400.12,58.94 L400.36,58.82 L400.6,58.69 L400.84,58.57 L401.08,58.45 L401.32,58.32 L401.56,58.2 L401.8,58.07 L402.04,57.94 L402.28,57.81 L402.52,57.68 L402.76,57.55 L403,57.42 L403.24,57.29 L403.48,57.16 L403.72,57.02 L403.96,56.89 L404.2,56.75 L404.44,56.61 L404.68,56.47 L404.92,56.33 L405.16,56.19 L405.4,56.05 L405.64,55.91 L405.88,55.77 L406.12,55.62 L406.36,55.47 L406.6,55.33 L406.84,55.18 L407.08,55.03 L407.32,54.88 L407.56,54.73 L407.8,54.57 L408.04,54.42 L408.28,54.26 L408.52,54.1 L408.76,53.94 L409,53.78 L409.24,53.62 L409.48,53.46 L409.72,53.29 L409.96,53.12 L410.2,52.96 L410.44,52.79 L410.68,52.62 L410.92,52.44 L411.16,52.27 L411.4,52.09 L411.64,51.91 L411.88,51.73 L412.12,51.55 L412.36,51.37 L412.6,51.18 L412.84,50.99 L413.08,50.8 L413.32,50.61 L413.56,50.42 L413.8,50.22 L414.04,50.02 L414.28,49.82 L414.52,49.62 L414.76,49.42 L415,49.21 L415.24,49 L415.48,48.79 L415.72,48.57 L415.96,48.35 L416.2,48.13 L416.44,47.91 L416.68,47.68 L416.92,47.46 L417.16,47.22 L417.4,46.99 L417.64,46.75 L417.88,46.51 L418.12,46.27 L418.36,46.02 L418.6,45.77 L418.84,45.51 L419.08,45.25 L419.32,44.99 L419.56,44.72 L419.8,44.45 L420.04,44.18 L420.28,43.9 L420.52,43.62 L420.76,43.33 L421,43.04 L421.24,42.74 L421.48,42.44 L421.72,42.13 L421.96,41.82 L422.2,41.5 L422.44,41.17 L422.68,40.84 L422.92,40.51 L423.16,40.17 L423.4,39.82 L423.64,39.46 L423.88,39.1 L424.12,38.73 L424.36,38.36 L424.6,37.97 L424.84,37.58 L425.08,37.18 L425.32,36.77 L425.56,36.35 L425.8,35.92 L426.04,35.49 L426.28,35.04 L426.52,34.59 L426.76,34.12 L427,33.64 L427.24,33.15 L427.48,32.65 L427.72,32.14 L427.96,31.62 L428.2,31.09 L428.44,30.54 L428.68,29.99 L428.92,29.42 L429.16,28.84 L429.4,28.25 L429.64,27.65 L429.88,27.05 L430.12,26.43 L430.36,25.82 L430.6,25.2 L430.84,24.59 L431.08,23.98 L431.32,23.39 L431.56,22.82 L431.8,22.27 L432.04,21.75 L432.28,21.28 L432.52,20.85 L432.76,20.48 L433,20.17 L433.24,19.92 L433.48,19.73 L433.72,19.61 L433.96,19.53 L434.2,19.5 L434.39,19.5 L434.44,19.52 L434.68,19.81 L434.92,20.24 L435.16,20.74 L435.4,21.29 L435.64,21.87 L435.88,22.47 L436.12,23.09 L436.36,23.71 L436.6,24.33 L436.84,24.94 L437.08,25.55 L437.32,26.16 L437.56,26.75 L437.8,27.33 L438.04,27.9 L438.28,28.46 L438.52,29.01 L438.76,29.55 L439,30.07 L439.24,30.58 L439.48,31.09 L439.72,31.58 L439.96,32.06 L440.2,32.53 L440.44,32.98 L440.68,33.43 L440.92,33.87 L441.16,34.3 L441.4,34.72 L441.64,35.14 L441.88,35.54 L442.12,35.93 L442.36,36.32 L442.6,36.7 L442.74,36.92 L442.84,37.07 L443.08,37.44 L443.32,37.79 L443.56,38.14 L443.8,38.49 L444.04,38.83 L444.28,39.16 L444.52,39.48 L444.76,39.8 L445,40.12 L445.24,40.43 L445.48,40.73 L445.72,41.03 L445.96,41.32 L446.2,41.61 L446.44,41.9 L446.68,42.18 L446.92,42.45 L447.16,42.72 L447.4,42.99 L447.64,43.25 L447.88,43.51 L448.12,43.77 L448.36,44.02 L448.6,44.26 L448.84,44.51 L449.08,44.75 L449.32,44.99 L449.56,45.22 L449.8,45.45 L450.04,45.68 L450.28,45.91 L450.52,46.13 L450.76,46.35 L451,46.56 L451.24,46.78 L451.48,46.99 L451.72,47.2 L451.86,47.32 L451.96,47.4 L452.2,47.61 L452.44,47.81 L452.68,48.01 L452.92,48.2 L453.16,48.4 L453.4,48.59 L453.64,48.78 L453.88,48.97 L454.12,49.15 L454.36,49.33 L454.6,49.52 L454.84,49.7 L455.08,49.87 L455.32,50.05 L455.56,50.22 L455.8,50.39 L456.04,50.57 L456.28,50.73 L456.52,50.9 L456.76,51.07 L457,51.23 L457.24,51.39 L457.48,51.55 L457.72,51.71 L457.96,51.87 L458.2,52.02 L458.44,52.18 L458.68,52.33 L458.92,52.48 L459.16,52.63 L459.4,52.78 L459.64,52.93 L459.88,53.07 L460.12,53.22 L460.36,53.36 L460.6,53.5 L460.84,53.65 L461.08,53.79 L461.32,53.92 L461.56,54.06 L461.8,54.2 L462.04,54.33 L462.28,54.47 L462.52,54.6 L462.76,54.73 L463,54.86 L463.24,54.99 L463.48,55.12 L463.72,55.25 L463.96,55.38 L464.2,55.5 L464.44,55.63 L464.68,55.75 L464.92,55.87 L465.16,55.99 L465.4,56.12 L465.64,56.24 L465.88,56.36 L466.12,56.47 L466.36,56.59 L466.6,56.71 L466.84,56.82 L467.08,56.94 L467.32,57.05 L467.56,57.17 L467.8,57.28 L468.04,57.39 L468.28,57.5 L468.52,57.61 L468.76,57.72 L469,57.83 L469.24,57.94 L469.48,58.04 L469.72,58.15 L469.96,58.26 L470.2,58.36 L470.44,58.47 L470.68,58.57 L470.92,58.67 L471.16,58.78 L471.4,58.88 L471.64,58.98 L471.88,59.08 L472.12,59.18 L472.36,59.28 L472.6,59.38 L472.84,59.47 L473.08,59.57 L473.32,59.67 L473.56,59.76 L473.8,59.86 L474.04,59.96 L474.28,60.05 L474.52,60.14 L474.76,60.24 L475,60.33 L475.24,60.42 L475.48,60.51 L475.72,60.61 L475.96,60.7 L476.2,60.79 L476.44,60.88 L476.68,60.96 L476.92,61.05 L477.16,61.14 L477.4,61.23 L477.64,61.32 L477.88,61.4 L478.12,61.49 L478.36,61.57 L478.6,61.66 L478.84,61.74 L479.08,61.83 L479.32,61.91 L479.56,62 L479.8,62.08 L480.04,62.16 L480.28,62.24 L480.52,62.33 L480.76,62.41 L481,62.49 L481.24,62.57 L481.48,62.65 L481.72,62.73 L481.96,62.81 L482.2,62.89 L482.44,62.96 L482.68,63.04 L482.92,63.12 L483.16,63.2 L483.4,63.27 L483.64,63.35 L483.88,63.43 L484.12,63.5 L484.36,63.58 L484.6,63.65 L484.84,63.73 L485.08,63.8 L485.32,63.87 L485.56,63.95 L485.8,64.02 L486.04,64.09 L486.28,64.17 L486.52,64.24 L486.76,64.31 L487,64.38 L487.24,64.45 L487.48,64.52 L487.72,64.6 L487.96,64.67 L488.2,64.74 L488.44,64.8 L488.68,64.87 L488.92,64.94 L489.16,65.01 L489.4,65.08 L489.64,65.15 L489.88,65.22 L490.12,65.28 L490.36,65.35 L490.6,65.42 L490.84,65.48 L491.08,65.55 L491.32,65.62 L491.56,65.68 L491.8,65.75 L492.04,65.81 L492.28,65.88 L492.52,65.94 L492.76,66.01 L493,66.07 L493.24,66.13 L493.48,66.2 L493.72,66.26 L493.96,66.32 L494.2,66.39 L494.44,66.45 L494.68,66.51 L494.92,66.57 L495.16,66.63 L495.4,66.7 L495.64,66.76 L495.88,66.82 L496.12,66.88 L496.36,66.94 L496.6,67 L496.84,67.06 L497.08,67.12 L497.32,67.18 L497.56,67.24 L497.8,67.3 L498.04,67.36 L498.28,67.42 L498.52,67.47 L498.76,67.53 L499,67.59 L499.24,67.65 L499.48,67.71 L499.72,67.76 L499.96,67.82 L500.2,67.88 L500.44,67.93 L500.68,67.99 L500.92,68.05 L501.16,68.1 L501.4,68.16 L501.64,68.21 L501.88,68.27 L502.12,68.32 L502.36,68.38 L502.6,68.43 L502.84,68.49 L503.08,68.54 L503.32,68.6 L503.56,68.65 L503.8,68.7 L504.04,68.76 L504.28,68.81 L504.52,68.87 L504.76,68.92 L505,68.97 L505.24,69.02 L505.48,69.08 L505.72,69.13 L505.96,69.18 L506.2,69.23 L506.44,69.28 L506.68,69.34 L506.92,69.39 L507.16,69.44 L507.4,69.49 L507.64,69.54 L507.88,69.59 L508.12,69.64 L508.36,69.69 L508.6,69.74 L508.84,69.79 L509.08,69.84 L509.32,69.89 L509.56,69.94 L509.8,69.99 L510.04,70.04 L510.28,70.09 L510.52,70.14 L510.76,70.19 L511,70.24 L511.24,70.28 L511.48,70.33 L511.72,70.38 L511.96,70.43 L512.2,70.48 L512.44,70.52 L512.68,70.57 L512.92,70.62 L513.16,70.67 L513.4,70.71 L513.64,70.76 L513.88,70.81 L514.12,70.85 L514.36,70.9 L514.6,70.95 L514.84,70.99 L515.08,71.04 L515.32,71.08 L515.56,71.13 L515.8,71.18 L516.04,71.22 L516.28,71.27 L516.52,71.31 L516.76,71.36 L517,71.4 L517.24,71.45 L517.48,71.49 L517.72,71.54 L517.96,71.58 L518.2,71.62 L518.44,71.67 L518.68,71.71 L518.92,71.76 L519.16,71.8 L519.4,71.84 L519.64,71.89 L519.88,71.93 L520.12,71.97 L520.36,72.02 L520.6,72.06 L520.84,72.1 L521.08,72.15 L521.32,72.19 L521.56,72.23 L521.8,72.27 L522.04,72.32 L522.28,72.36 L522.52,72.4 L522.76,72.44 L523,72.48 L523.24,72.52 L523.48,72.57 L523.72,72.61 L523.96,72.65 L524.2,72.69 L524.44,72.73 L524.68,72.77 L524.92,72.81 L525.16,72.85 L525.4,72.89 L525.64,72.93 L525.88,72.98 L526.12,73.02 L526.36,73.06 L526.6,73.1 L526.84,73.14 L527.08,73.18 L527.32,73.22 L527.56,73.25 L527.8,73.29 L528.04,73.33 L528.28,73.37 L528.52,73.41 L528.76,73.45 L529,73.49 L529.24,73.53 L529.48,73.57 L529.72,73.61 L529.96,73.65 L530.2,73.68 L530.44,73.72 L530.68,73.76 L530.92,73.8 L531.16,73.84 L531.4,73.87 L531.64,73.91 L531.88,73.95 L532.12,73.99 L532.36,74.03 L532.6,74.06 L532.84,74.1 L533.08,74.14 L533.32,74.17 L533.56,74.21 L533.8,74.25 L534.04,74.29 L534.28,74.32 L534.52,74.36 L534.76,74.4 L535,74.43 L535.24,74.47 L535.48,74.51 L535.72,74.54 L535.96,74.58 L536.2,74.61 L536.44,74.65 L536.68,74.69 L536.92,74.72 L537.16,74.76 L537.4,74.79 L537.64,74.83 L537.88,74.86 L538.12,74.9 L538.36,74.93 L538.6,74.97 L538.84,75 L539.08,75.04 L539.32,75.08 L539.56,75.11 L539.8,75.14 L540.04,75.18 L540.28,75.21 L540.52,75.25 L540.76,75.28 L541,75.32 L541.24,75.35 L541.48,75.39 L541.72,75.42 L541.96,75.45 L542.2,75.49 L542.44,75.52 L542.68,75.56 L542.92,75.59 L543.16,75.62 L543.4,75.66 L543.64,75.69 L543.88,75.72 L544.12,75.76 L544.36,75.79 L544.6,75.82" stroke="#88287F" stroke-width="2" fill="none" stroke-linejoin="round"/>
<rect x="361.9" y="78.2" width="122.5" height="10.2" fill="#fff" stroke="#d0d0d0" stroke-width="0.7"/>
<path d="M363.2,83.3H378.6" stroke="#F8553F" stroke-width="2"/>
<text x="380.5" y="85.9" class="t" font-size="7.3">Code 1</text>
<path d="M405,83.3H420.5" stroke="#3A78D6" stroke-width="2"/>
<text x="422.6" y="85.9" class="t" font-size="7.3">Code 2</text>
<path d="M445,83.3H460.6" stroke="#88287F" stroke-width="2"/>
<text x="462.6" y="85.9" class="t" font-size="7.3">Code 3</text>
<rect x="481.5" y="12.6" width="48.5" height="12.8" fill="#fff" stroke="#cfcfcf" stroke-width="0.7"/>
<text x="483" y="21.4" class="t b" font-size="8">Simulated S<tspan font-size="5.3" dy="2.7">21</tspan></text>
<path d="M352.6,6.7H544.6" stroke="#9a9a9a" stroke-width="1.7"/>
<path d="M544.6,6.7V92" stroke="#888" stroke-width="1.2"/>
<path d="M352.6,6.1V92" stroke="#333" stroke-width="0.9"/>
<path d="M352.6,92H545.1" stroke="#333" stroke-width="0.9"/>
<path d="M352.6,88.59h1.6M352.6,85.18h1.6M352.6,81.76h1.6M352.6,78.35h1.6M352.6,74.94h2.6M352.6,71.53h1.6M352.6,68.12h1.6M352.6,64.7h1.6M352.6,61.29h1.6M352.6,57.88h2.6M352.6,54.47h1.6M352.6,51.06h1.6M352.6,47.64h1.6M352.6,44.23h1.6M352.6,40.82h2.6M352.6,37.41h1.6M352.6,34h1.6M352.6,30.58h1.6M352.6,27.17h1.6M352.6,23.76h2.6M352.6,20.35h1.6M352.6,16.94h1.6M352.6,13.52h1.6M352.6,10.11h1.6M362.2,92v-1.6M371.8,92v-1.6M381.4,92v-1.6M391,92v-1.6M400.6,92v-2.6M410.2,92v-1.6M419.8,92v-1.6M429.4,92v-1.6M439,92v-1.6M448.6,92v-2.6M458.2,92v-1.6M467.8,92v-1.6M477.4,92v-1.6M487,92v-1.6M496.6,92v-2.6M506.2,92v-1.6M515.8,92v-1.6M525.4,92v-1.6M535,92v-1.6" stroke="#333" stroke-width="0.8"/>
<text x="351.2" y="94.7" class="t" font-size="7.8" text-anchor="end">-30</text>
<text x="351.2" y="77.64" class="t" font-size="7.8" text-anchor="end">-20</text>
<text x="351.2" y="60.58" class="t" font-size="7.8" text-anchor="end">-10</text>
<text x="351.2" y="43.52" class="t" font-size="7.8" text-anchor="end">0</text>
<text x="351.2" y="26.46" class="t" font-size="7.8" text-anchor="end">10</text>
<text x="351.2" y="9.4" class="t" font-size="7.8" text-anchor="end">20</text>
<text x="352.6" y="100.5" class="t" font-size="7.8" text-anchor="middle">4</text>
<text x="400.6" y="100.5" class="t" font-size="7.8" text-anchor="middle">4.5</text>
<text x="448.6" y="100.5" class="t" font-size="7.8" text-anchor="middle">5</text>
<text x="496.6" y="100.5" class="t" font-size="7.8" text-anchor="middle">5.5</text>
<text x="544.6" y="100.5" class="t" font-size="7.8" text-anchor="middle">6</text>
<text x="409.6" y="115.9" class="t b" font-size="10.9" textLength="78" lengthAdjust="spacingAndGlyphs">Frequency (GHz)</text>
<text transform="translate(330.2,65.35) rotate(-90)" class="t b" font-size="10.9">S<tspan font-size="7" dy="3.2">21</tspan><tspan dy="-3.2"> (dB)</tspan></text>
<path d="M362.2,125V210.2M371.8,125V210.2M381.4,125V210.2M391,125V210.2M410.2,125V210.2M419.8,125V210.2M429.4,125V210.2M439,125V210.2M458.2,125V210.2M467.8,125V210.2M477.4,125V210.2M487,125V210.2M506.2,125V210.2M515.8,125V210.2M525.4,125V210.2M535,125V210.2M352.6,206.79H544.6M352.6,203.38H544.6M352.6,199.98H544.6M352.6,196.57H544.6M352.6,189.75H544.6M352.6,186.34H544.6M352.6,182.94H544.6M352.6,179.53H544.6M352.6,172.71H544.6M352.6,169.3H544.6M352.6,165.9H544.6M352.6,162.49H544.6M352.6,155.67H544.6M352.6,152.26H544.6M352.6,148.86H544.6M352.6,145.45H544.6M352.6,138.63H544.6M352.6,135.22H544.6M352.6,131.82H544.6M352.6,128.41H544.6" stroke="#efefef" stroke-width="0.8" fill="none"/>
<path d="M400.6,125V210.2M448.6,125V210.2M496.6,125V210.2M352.6,193.16H544.6M352.6,176.12H544.6M352.6,159.08H544.6M352.6,142.04H544.6" stroke="#dedede" stroke-width="0.8" fill="none"/>
<path d="M352.6,183.48 L352.84,183.44 L353.08,183.39 L353.32,183.34 L353.56,183.29 L353.8,183.24 L354.04,183.2 L354.28,183.15 L354.52,183.1 L354.76,183.05 L355,183 L355.24,182.96 L355.48,182.91 L355.72,182.86 L355.96,182.81 L356.2,182.76 L356.44,182.71 L356.68,182.66 L356.92,182.61 L357.16,182.56 L357.4,182.51 L357.64,182.46 L357.88,182.42 L358.12,182.37 L358.36,182.32 L358.6,182.27 L358.84,182.22 L359.08,182.17 L359.32,182.11 L359.56,182.06 L359.8,182.01 L360.04,181.96 L360.28,181.91 L360.52,181.86 L360.76,181.81 L361,181.76 L361.24,181.71 L361.48,181.66 L361.72,181.6 L361.96,181.55 L362.2,181.5 L362.44,181.45 L362.68,181.4 L362.92,181.35 L363.16,181.29 L363.4,181.24 L363.64,181.19 L363.88,181.14 L364.12,181.08 L364.36,181.03 L364.6,180.98 L364.84,180.92 L365.08,180.87 L365.32,180.82 L365.56,180.76 L365.8,180.71 L366.04,180.66 L366.28,180.6 L366.52,180.55 L366.76,180.49 L367,180.44 L367.24,180.38 L367.48,180.33 L367.72,180.28 L367.96,180.22 L368.2,180.17 L368.44,180.11 L368.68,180.05 L368.92,180 L369.16,179.94 L369.4,179.89 L369.64,179.83 L369.88,179.78 L370.12,179.72 L370.36,179.66 L370.6,179.61 L370.84,179.55 L371.08,179.49 L371.32,179.44 L371.56,179.38 L371.8,179.32 L372.04,179.26 L372.28,179.21 L372.52,179.15 L372.76,179.09 L373,179.03 L373.24,178.97 L373.48,178.92 L373.72,178.86 L373.96,178.8 L374.2,178.74 L374.44,178.68 L374.68,178.62 L374.92,178.56 L375.16,178.5 L375.4,178.44 L375.64,178.38 L375.88,178.32 L376.12,178.26 L376.36,178.2 L376.6,178.14 L376.84,178.08 L377.08,178.02 L377.32,177.96 L377.56,177.9 L377.8,177.83 L378.04,177.77 L378.28,177.71 L378.52,177.65 L378.76,177.59 L379,177.52 L379.24,177.46 L379.48,177.4 L379.72,177.33 L379.96,177.27 L380.2,177.21 L380.44,177.14 L380.68,177.08 L380.92,177.02 L381.16,176.95 L381.4,176.89 L381.64,176.82 L381.88,176.76 L382.12,176.69 L382.36,176.63 L382.6,176.56 L382.84,176.49 L383.08,176.43 L383.32,176.36 L383.56,176.3 L383.8,176.23 L384.04,176.16 L384.28,176.1 L384.52,176.03 L384.76,175.96 L385,175.89 L385.24,175.82 L385.48,175.76 L385.72,175.69 L385.96,175.62 L386.2,175.55 L386.44,175.48 L386.68,175.41 L386.92,175.34 L387.16,175.27 L387.4,175.2 L387.64,175.13 L387.88,175.06 L388.12,174.99 L388.36,174.92 L388.6,174.85 L388.84,174.77 L389.08,174.7 L389.32,174.63 L389.56,174.56 L389.8,174.49 L390.04,174.41 L390.28,174.34 L390.52,174.26 L390.76,174.19 L391,174.12 L391.24,174.04 L391.48,173.97 L391.72,173.89 L391.96,173.82 L392.2,173.74 L392.44,173.67 L392.68,173.59 L392.92,173.51 L393.16,173.44 L393.4,173.36 L393.64,173.28 L393.88,173.2 L394.12,173.13 L394.36,173.05 L394.6,172.97 L394.84,172.89 L395.08,172.81 L395.32,172.73 L395.56,172.65 L395.8,172.57 L396.04,172.49 L396.28,172.41 L396.52,172.33 L396.76,172.25 L397,172.16 L397.24,172.08 L397.48,172 L397.72,171.91 L397.96,171.83 L398.2,171.75 L398.44,171.66 L398.68,171.58 L398.92,171.49 L399.16,171.41 L399.4,171.32 L399.64,171.24 L399.88,171.15 L400.12,171.06 L400.36,170.98 L400.6,170.89 L400.84,170.8 L401.08,170.71 L401.32,170.62 L401.56,170.53 L401.8,170.44 L402.04,170.35 L402.28,170.26 L402.52,170.17 L402.76,170.08 L403,169.99 L403.24,169.89 L403.48,169.8 L403.72,169.71 L403.96,169.61 L404.2,169.52 L404.44,169.43 L404.68,169.33 L404.92,169.23 L405.16,169.14 L405.4,169.04 L405.64,168.94 L405.88,168.85 L406.12,168.75 L406.36,168.65 L406.6,168.55 L406.84,168.45 L407.08,168.35 L407.32,168.25 L407.56,168.15 L407.8,168.05 L408.04,167.94 L408.28,167.84 L408.52,167.74 L408.76,167.63 L409,167.53 L409.24,167.42 L409.48,167.32 L409.72,167.21 L409.96,167.1 L410.2,166.99 L410.44,166.89 L410.68,166.78 L410.92,166.67 L411.16,166.56 L411.4,166.44 L411.64,166.33 L411.88,166.22 L412.12,166.11 L412.36,165.99 L412.6,165.88 L412.84,165.76 L413.08,165.65 L413.32,165.53 L413.56,165.41 L413.8,165.29 L414.04,165.17 L414.28,165.05 L414.52,164.93 L414.76,164.81 L415,164.69 L415.24,164.57 L415.48,164.44 L415.72,164.32 L415.96,164.19 L416.2,164.07 L416.44,163.94 L416.68,163.81 L416.92,163.68 L417.16,163.55 L417.4,163.42 L417.64,163.29 L417.88,163.16 L418.12,163.02 L418.36,162.89 L418.6,162.75 L418.84,162.61 L419.08,162.48 L419.32,162.34 L419.56,162.2 L419.8,162.06 L420.04,161.91 L420.28,161.77 L420.52,161.63 L420.76,161.48 L421,161.33 L421.24,161.19 L421.48,161.04 L421.72,160.89 L421.96,160.74 L422.2,160.58 L422.44,160.43 L422.68,160.27 L422.92,160.12 L423.16,159.96 L423.4,159.8 L423.64,159.64 L423.88,159.47 L424.12,159.31 L424.36,159.15 L424.6,158.98 L424.84,158.81 L425.08,158.64 L425.32,158.47 L425.56,158.3 L425.8,158.12 L426.04,157.94 L426.28,157.77 L426.52,157.59 L426.76,157.4 L427,157.22 L427.24,157.03 L427.48,156.85 L427.72,156.66 L427.96,156.47 L428.2,156.27 L428.44,156.08 L428.68,155.88 L428.92,155.68 L429.16,155.48 L429.4,155.27 L429.64,155.07 L429.88,154.86 L430.12,154.65 L430.36,154.43 L430.6,154.22 L430.84,154 L431.08,153.78 L431.32,153.55 L431.56,153.33 L431.8,153.1 L432.04,152.87 L432.28,152.63 L432.52,152.39 L432.76,152.15 L433,151.91 L433.24,151.66 L433.48,151.41 L433.72,151.15 L433.82,151.05 L433.96,150.9 L434.2,150.64 L434.44,150.37 L434.68,150.1 L434.92,149.83 L435.16,149.55 L435.4,149.27 L435.64,148.99 L435.88,148.7 L436.12,148.41 L436.36,148.11 L436.6,147.81 L436.84,147.5 L437.08,147.19 L437.32,146.88 L437.56,146.56 L437.8,146.23 L438.04,145.9 L438.28,145.56 L438.52,145.22 L438.76,144.88 L439,144.52 L439.24,144.17 L439.48,143.8 L439.72,143.43 L439.96,143.06 L440.2,142.68 L440.44,142.29 L440.63,141.98 L440.68,141.9 L440.92,141.5 L441.16,141.09 L441.4,140.68 L441.64,140.26 L441.88,139.84 L442.12,139.42 L442.36,138.98 L442.6,138.55 L442.84,138.1 L443.08,137.66 L443.32,137.21 L443.56,136.76 L443.8,136.31 L444.04,135.86 L444.28,135.42 L444.52,134.97 L444.76,134.53 L445,134.1 L445.24,133.68 L445.48,133.28 L445.72,132.89 L445.96,132.51 L446.2,132.17 L446.44,131.84 L446.68,131.55 L446.92,131.29 L447.16,131.07 L447.4,130.9 L447.64,130.76 L447.88,130.67 L448.12,130.63 L448.22,130.62 L448.36,130.63 L448.6,130.69 L448.84,130.79 L449.08,130.94 L449.32,131.13 L449.56,131.37 L449.8,131.64 L450.04,131.94 L450.28,132.28 L450.52,132.64 L450.76,133.02 L451,133.42 L451.24,133.83 L451.48,134.26 L451.72,134.69 L451.96,135.13 L452.2,135.58 L452.44,136.02 L452.68,136.47 L452.92,136.92 L453.16,137.36 L453.4,137.81 L453.64,138.24 L453.88,138.68 L454.12,139.11 L454.36,139.53 L454.6,139.95 L454.84,140.36 L455.08,140.77 L455.32,141.17 L455.56,141.57 L455.8,141.96 L456.04,142.34 L456.28,142.71 L456.52,143.08 L456.76,143.45 L457,143.81 L457.24,144.16 L457.48,144.5 L457.72,144.84 L457.96,145.18 L458.2,145.51 L458.44,145.83 L458.68,146.15 L458.92,146.46 L459.16,146.77 L459.4,147.08 L459.64,147.38 L459.88,147.67 L460.12,147.96 L460.36,148.24 L460.6,148.52 L460.84,148.8 L461.08,149.07 L461.32,149.34 L461.56,149.6 L461.8,149.86 L462.04,150.12 L462.28,150.37 L462.52,150.62 L462.76,150.87 L463,151.11 L463.24,151.35 L463.48,151.58 L463.72,151.82 L463.96,152.05 L464.2,152.27 L464.44,152.5 L464.68,152.72 L464.92,152.93 L465.16,153.15 L465.4,153.36 L465.64,153.57 L465.88,153.78 L466.12,153.98 L466.36,154.19 L466.6,154.38 L466.84,154.58 L467.08,154.78 L467.32,154.97 L467.56,155.16 L467.8,155.35 L468.04,155.54 L468.28,155.72 L468.52,155.9 L468.76,156.08 L469,156.26 L469.24,156.44 L469.48,156.61 L469.72,156.78 L469.96,156.95 L470.2,157.12 L470.44,157.29 L470.68,157.46 L470.92,157.62 L471.16,157.78 L471.4,157.94 L471.64,158.1 L471.88,158.26 L472.12,158.42 L472.36,158.57 L472.6,158.72 L472.84,158.87 L473.08,159.02 L473.32,159.17 L473.56,159.32 L473.8,159.47 L474.04,159.61 L474.28,159.76 L474.52,159.9 L474.76,160.04 L475,160.18 L475.24,160.32 L475.48,160.45 L475.72,160.59 L475.96,160.73 L476.2,160.86 L476.44,160.99 L476.68,161.12 L476.92,161.25 L477.16,161.38 L477.4,161.51 L477.64,161.64 L477.88,161.77 L478.12,161.89 L478.36,162.02 L478.6,162.14 L478.84,162.26 L479.08,162.38 L479.32,162.5 L479.56,162.62 L479.8,162.74 L480.04,162.86 L480.28,162.98 L480.52,163.09 L480.76,163.21 L481,163.32 L481.24,163.44 L481.48,163.55 L481.72,163.66 L481.96,163.77 L482.2,163.88 L482.44,163.99 L482.68,164.1 L482.92,164.21 L483.16,164.32 L483.4,164.43 L483.64,164.53 L483.88,164.64 L484.12,164.74 L484.36,164.85 L484.6,164.95 L484.84,165.05 L485.08,165.15 L485.32,165.25 L485.56,165.35 L485.8,165.45 L486.04,165.55 L486.28,165.65 L486.52,165.75 L486.76,165.85 L487,165.94 L487.24,166.04 L487.48,166.14 L487.72,166.23 L487.96,166.33 L488.2,166.42 L488.44,166.51 L488.68,166.6 L488.92,166.7 L489.16,166.79 L489.4,166.88 L489.64,166.97 L489.88,167.06 L490.12,167.15 L490.36,167.24 L490.6,167.33 L490.84,167.41 L491.08,167.5 L491.32,167.59 L491.56,167.68 L491.8,167.76 L492.04,167.85 L492.28,167.93 L492.52,168.02 L492.76,168.1 L493,168.18 L493.24,168.27 L493.48,168.35 L493.72,168.43 L493.96,168.51 L494.2,168.6 L494.44,168.68 L494.68,168.76 L494.92,168.84 L495.16,168.92 L495.4,169 L495.64,169.07 L495.88,169.15 L496.12,169.23 L496.36,169.31 L496.6,169.39 L496.84,169.46 L497.08,169.54 L497.32,169.62 L497.56,169.69 L497.8,169.77 L498.04,169.84 L498.28,169.92 L498.52,169.99 L498.76,170.06 L499,170.14 L499.24,170.21 L499.48,170.28 L499.72,170.36 L499.96,170.43 L500.2,170.5 L500.44,170.57 L500.68,170.64 L500.92,170.71 L501.16,170.78 L501.4,170.85 L501.64,170.92 L501.88,170.99 L502.12,171.06 L502.36,171.13 L502.6,171.2 L502.84,171.27 L503.08,171.33 L503.32,171.4 L503.56,171.47 L503.8,171.54 L504.04,171.6 L504.28,171.67 L504.52,171.74 L504.76,171.8 L505,171.87 L505.24,171.93 L505.48,172 L505.72,172.06 L505.96,172.13 L506.2,172.19 L506.44,172.25 L506.68,172.32 L506.92,172.38 L507.16,172.44 L507.4,172.51 L507.64,172.57 L507.88,172.63 L508.12,172.69 L508.36,172.76 L508.6,172.82 L508.84,172.88 L509.08,172.94 L509.32,173 L509.56,173.06 L509.8,173.12 L510.04,173.18 L510.28,173.24 L510.52,173.3 L510.76,173.36 L511,173.42 L511.24,173.48 L511.48,173.54 L511.72,173.59 L511.96,173.65 L512.2,173.71 L512.44,173.77 L512.68,173.82 L512.92,173.88 L513.16,173.94 L513.4,174 L513.64,174.05 L513.88,174.11 L514.12,174.16 L514.36,174.22 L514.6,174.28 L514.84,174.33 L515.08,174.39 L515.32,174.44 L515.56,174.5 L515.8,174.55 L516.04,174.61 L516.28,174.66 L516.52,174.71 L516.76,174.77 L517,174.82 L517.24,174.88 L517.48,174.93 L517.72,174.98 L517.96,175.03 L518.2,175.09 L518.44,175.14 L518.68,175.19 L518.92,175.24 L519.16,175.3 L519.4,175.35 L519.64,175.4 L519.88,175.45 L520.12,175.5 L520.36,175.55 L520.6,175.6 L520.84,175.66 L521.08,175.71 L521.32,175.76 L521.56,175.81 L521.8,175.86 L522.04,175.91 L522.28,175.96 L522.52,176.01 L522.76,176.05 L523,176.1 L523.24,176.15 L523.48,176.2 L523.72,176.25 L523.96,176.3 L524.2,176.35 L524.44,176.4 L524.68,176.44 L524.92,176.49 L525.16,176.54 L525.4,176.59 L525.64,176.63 L525.88,176.68 L526.12,176.73 L526.36,176.78 L526.6,176.82 L526.84,176.87 L527.08,176.92 L527.32,176.96 L527.56,177.01 L527.8,177.05 L528.04,177.1 L528.28,177.15 L528.52,177.19 L528.76,177.24 L529,177.28 L529.24,177.33 L529.48,177.37 L529.72,177.42 L529.96,177.46 L530.2,177.51 L530.44,177.55 L530.68,177.6 L530.92,177.64 L531.16,177.68 L531.4,177.73 L531.64,177.77 L531.88,177.82 L532.12,177.86 L532.36,177.9 L532.6,177.95 L532.84,177.99 L533.08,178.03 L533.32,178.08 L533.56,178.12 L533.8,178.16 L534.04,178.2 L534.28,178.25 L534.52,178.29 L534.76,178.33 L535,178.37 L535.24,178.41 L535.48,178.46 L535.72,178.5 L535.96,178.54 L536.2,178.58 L536.44,178.62 L536.68,178.66 L536.92,178.7 L537.16,178.75 L537.4,178.79 L537.64,178.83 L537.88,178.87 L538.12,178.91 L538.36,178.95 L538.6,178.99 L538.84,179.03 L539.08,179.07 L539.32,179.11 L539.56,179.15 L539.8,179.19 L540.04,179.23 L540.28,179.27 L540.52,179.31 L540.76,179.35 L541,179.39 L541.24,179.43 L541.48,179.46 L541.72,179.5 L541.96,179.54 L542.2,179.58 L542.44,179.62 L542.68,179.66 L542.92,179.7 L543.16,179.73 L543.4,179.77 L543.64,179.81 L543.88,179.85 L544.12,179.89 L544.36,179.92 L544.6,179.96" stroke="#F8553F" stroke-width="2" fill="none" stroke-linejoin="round"/>
<path d="M352.6,182.49 L352.84,182.44 L353.08,182.39 L353.32,182.34 L353.56,182.29 L353.8,182.25 L354.04,182.2 L354.28,182.15 L354.52,182.1 L354.76,182.05 L355,182 L355.24,181.95 L355.48,181.9 L355.72,181.85 L355.96,181.79 L356.2,181.74 L356.44,181.69 L356.68,181.64 L356.92,181.59 L357.16,181.54 L357.4,181.49 L357.64,181.44 L357.88,181.39 L358.12,181.33 L358.36,181.28 L358.6,181.23 L358.84,181.18 L359.08,181.13 L359.32,181.07 L359.56,181.02 L359.8,180.97 L360.04,180.92 L360.28,180.86 L360.52,180.81 L360.76,180.76 L361,180.7 L361.24,180.65 L361.48,180.6 L361.72,180.54 L361.96,180.49 L362.2,180.43 L362.44,180.38 L362.68,180.33 L362.92,180.27 L363.16,180.22 L363.4,180.16 L363.64,180.11 L363.88,180.05 L364.12,180 L364.36,179.94 L364.6,179.89 L364.84,179.83 L365.08,179.78 L365.32,179.72 L365.56,179.66 L365.8,179.61 L366.04,179.55 L366.28,179.49 L366.52,179.44 L366.76,179.38 L367,179.32 L367.24,179.27 L367.48,179.21 L367.72,179.15 L367.96,179.09 L368.2,179.04 L368.44,178.98 L368.68,178.92 L368.92,178.86 L369.16,178.8 L369.4,178.74 L369.64,178.68 L369.88,178.63 L370.12,178.57 L370.36,178.51 L370.6,178.45 L370.84,178.39 L371.08,178.33 L371.32,178.27 L371.56,178.21 L371.8,178.15 L372.04,178.09 L372.28,178.02 L372.52,177.96 L372.76,177.9 L373,177.84 L373.24,177.78 L373.48,177.72 L373.72,177.65 L373.96,177.59 L374.2,177.53 L374.44,177.47 L374.68,177.4 L374.92,177.34 L375.16,177.28 L375.4,177.21 L375.64,177.15 L375.88,177.09 L376.12,177.02 L376.36,176.96 L376.6,176.89 L376.84,176.83 L377.08,176.76 L377.32,176.7 L377.56,176.63 L377.8,176.57 L378.04,176.5 L378.28,176.44 L378.52,176.37 L378.76,176.3 L379,176.24 L379.24,176.17 L379.48,176.1 L379.72,176.03 L379.96,175.97 L380.2,175.9 L380.44,175.83 L380.68,175.76 L380.92,175.69 L381.16,175.62 L381.4,175.55 L381.64,175.48 L381.88,175.42 L382.12,175.35 L382.36,175.27 L382.6,175.2 L382.84,175.13 L383.08,175.06 L383.32,174.99 L383.56,174.92 L383.8,174.85 L384.04,174.78 L384.28,174.7 L384.52,174.63 L384.76,174.56 L385,174.48 L385.24,174.41 L385.48,174.34 L385.72,174.26 L385.96,174.19 L386.2,174.11 L386.44,174.04 L386.68,173.96 L386.92,173.89 L387.16,173.81 L387.4,173.74 L387.64,173.66 L387.88,173.58 L388.12,173.5 L388.36,173.43 L388.6,173.35 L388.84,173.27 L389.08,173.19 L389.32,173.11 L389.56,173.03 L389.8,172.95 L390.04,172.87 L390.28,172.79 L390.52,172.71 L390.76,172.63 L391,172.55 L391.24,172.47 L391.48,172.39 L391.72,172.31 L391.96,172.22 L392.2,172.14 L392.44,172.06 L392.68,171.97 L392.92,171.89 L393.16,171.8 L393.4,171.72 L393.64,171.63 L393.88,171.55 L394.12,171.46 L394.36,171.37 L394.6,171.29 L394.84,171.2 L395.08,171.11 L395.32,171.02 L395.56,170.93 L395.8,170.84 L396.04,170.76 L396.28,170.66 L396.52,170.57 L396.76,170.48 L397,170.39 L397.24,170.3 L397.48,170.21 L397.72,170.11 L397.96,170.02 L398.2,169.93 L398.44,169.83 L398.68,169.74 L398.92,169.64 L399.16,169.55 L399.4,169.45 L399.64,169.35 L399.88,169.26 L400.12,169.16 L400.36,169.06 L400.6,168.96 L400.84,168.86 L401.08,168.76 L401.32,168.66 L401.56,168.56 L401.8,168.46 L402.04,168.35 L402.28,168.25 L402.52,168.15 L402.76,168.04 L403,167.94 L403.24,167.83 L403.48,167.73 L403.72,167.62 L403.96,167.51 L404.2,167.41 L404.44,167.3 L404.68,167.19 L404.92,167.08 L405.16,166.97 L405.4,166.86 L405.64,166.74 L405.88,166.63 L406.12,166.52 L406.36,166.4 L406.6,166.29 L406.84,166.17 L407.08,166.06 L407.32,165.94 L407.56,165.82 L407.8,165.7 L408.04,165.58 L408.28,165.46 L408.52,165.34 L408.76,165.22 L409,165.09 L409.24,164.97 L409.48,164.85 L409.72,164.72 L409.96,164.59 L410.2,164.47 L410.44,164.34 L410.68,164.21 L410.92,164.08 L411.16,163.95 L411.4,163.81 L411.64,163.68 L411.88,163.55 L412.12,163.41 L412.36,163.28 L412.6,163.14 L412.84,163 L413.08,162.86 L413.32,162.72 L413.56,162.58 L413.8,162.43 L414.04,162.29 L414.28,162.15 L414.52,162 L414.76,161.85 L415,161.7 L415.24,161.55 L415.48,161.4 L415.72,161.25 L415.96,161.09 L416.2,160.94 L416.44,160.78 L416.68,160.62 L416.92,160.46 L417.16,160.3 L417.4,160.14 L417.64,159.97 L417.88,159.81 L418.12,159.64 L418.36,159.47 L418.6,159.3 L418.84,159.13 L419.08,158.95 L419.32,158.78 L419.56,158.6 L419.8,158.42 L420.04,158.24 L420.28,158.06 L420.52,157.87 L420.76,157.68 L421,157.49 L421.24,157.3 L421.48,157.11 L421.72,156.91 L421.96,156.72 L422.2,156.52 L422.44,156.32 L422.68,156.11 L422.92,155.9 L423.16,155.7 L423.4,155.48 L423.64,155.27 L423.88,155.05 L424.12,154.83 L424.36,154.61 L424.6,154.39 L424.84,154.16 L425.08,153.93 L425.32,153.7 L425.56,153.46 L425.8,153.22 L426.04,152.98 L426.28,152.73 L426.52,152.48 L426.76,152.23 L427,151.97 L427.24,151.71 L427.48,151.45 L427.72,151.18 L427.96,150.91 L428.2,150.64 L428.44,150.36 L428.68,150.07 L428.92,149.79 L429.16,149.49 L429.4,149.2 L429.64,148.9 L429.88,148.59 L430.12,148.28 L430.36,147.97 L430.6,147.65 L430.84,147.32 L431.08,146.99 L431.32,146.66 L431.56,146.32 L431.8,145.97 L432.04,145.62 L432.28,145.26 L432.52,144.9 L432.76,144.53 L433,144.16 L433.24,143.78 L433.48,143.39 L433.72,143 L433.82,142.84 L433.96,142.61 L434.2,142.21 L434.44,141.8 L434.68,141.39 L434.92,140.97 L435.16,140.55 L435.4,140.13 L435.64,139.71 L435.88,139.28 L436.12,138.85 L436.36,138.42 L436.6,138 L436.84,137.58 L437.08,137.16 L437.32,136.75 L437.56,136.34 L437.8,135.95 L438.04,135.58 L438.28,135.22 L438.52,134.88 L438.76,134.57 L439,134.28 L439.24,134.02 L439.48,133.8 L439.72,133.62 L439.96,133.47 L440.2,133.37 L440.44,133.31 L440.63,133.3 L440.68,133.3 L440.92,133.33 L441.16,133.4 L441.4,133.52 L441.64,133.68 L441.88,133.87 L442.12,134.1 L442.36,134.37 L442.6,134.66 L442.84,134.97 L443.08,135.31 L443.32,135.66 L443.56,136.03 L443.8,136.42 L444.04,136.81 L444.28,137.21 L444.52,137.61 L444.76,138.02 L445,138.43 L445.24,138.84 L445.48,139.25 L445.72,139.66 L445.96,140.07 L446.2,140.47 L446.44,140.87 L446.68,141.27 L446.92,141.66 L447.16,142.05 L447.4,142.43 L447.64,142.8 L447.88,143.17 L448.12,143.54 L448.22,143.68 L448.36,143.9 L448.6,144.25 L448.84,144.6 L449.08,144.94 L449.32,145.28 L449.56,145.61 L449.8,145.94 L450.04,146.26 L450.28,146.58 L450.52,146.89 L450.76,147.19 L451,147.49 L451.24,147.79 L451.48,148.08 L451.72,148.37 L451.96,148.65 L452.2,148.93 L452.44,149.2 L452.68,149.47 L452.92,149.74 L453.16,150 L453.4,150.26 L453.64,150.51 L453.88,150.76 L454.12,151.01 L454.36,151.25 L454.6,151.49 L454.84,151.73 L455.08,151.96 L455.32,152.19 L455.56,152.42 L455.8,152.64 L456.04,152.86 L456.28,153.08 L456.52,153.3 L456.76,153.51 L457,153.72 L457.24,153.93 L457.48,154.13 L457.72,154.33 L457.96,154.53 L458.2,154.73 L458.44,154.92 L458.68,155.11 L458.92,155.3 L459.16,155.49 L459.4,155.68 L459.64,155.86 L459.88,156.04 L460.12,156.22 L460.36,156.4 L460.6,156.57 L460.84,156.74 L461.08,156.92 L461.32,157.08 L461.56,157.25 L461.8,157.42 L462.04,157.58 L462.28,157.74 L462.52,157.91 L462.76,158.06 L463,158.22 L463.24,158.38 L463.48,158.53 L463.72,158.68 L463.96,158.84 L464.2,158.99 L464.44,159.13 L464.68,159.28 L464.92,159.43 L465.16,159.57 L465.4,159.71 L465.64,159.85 L465.88,159.99 L466.12,160.13 L466.36,160.27 L466.6,160.41 L466.84,160.54 L467.08,160.68 L467.32,160.81 L467.56,160.94 L467.8,161.07 L468.04,161.2 L468.28,161.33 L468.52,161.46 L468.76,161.58 L469,161.71 L469.24,161.83 L469.48,161.96 L469.72,162.08 L469.96,162.2 L470.2,162.32 L470.44,162.44 L470.68,162.56 L470.92,162.67 L471.16,162.79 L471.4,162.91 L471.64,163.02 L471.88,163.13 L472.12,163.25 L472.36,163.36 L472.6,163.47 L472.84,163.58 L473.08,163.69 L473.32,163.8 L473.56,163.91 L473.8,164.02 L474.04,164.12 L474.28,164.23 L474.52,164.33 L474.76,164.44 L475,164.54 L475.24,164.64 L475.48,164.75 L475.72,164.85 L475.96,164.95 L476.2,165.05 L476.44,165.15 L476.68,165.25 L476.92,165.34 L477.16,165.44 L477.4,165.54 L477.64,165.63 L477.88,165.73 L478.12,165.82 L478.36,165.92 L478.6,166.01 L478.84,166.11 L479.08,166.2 L479.32,166.29 L479.56,166.38 L479.8,166.47 L480.04,166.56 L480.28,166.65 L480.52,166.74 L480.76,166.83 L481,166.92 L481.24,167.01 L481.48,167.09 L481.72,167.18 L481.96,167.27 L482.2,167.35 L482.44,167.44 L482.68,167.52 L482.92,167.6 L483.16,167.69 L483.4,167.77 L483.64,167.85 L483.88,167.94 L484.12,168.02 L484.36,168.1 L484.6,168.18 L484.84,168.26 L485.08,168.34 L485.32,168.42 L485.56,168.5 L485.8,168.58 L486.04,168.65 L486.28,168.73 L486.52,168.81 L486.76,168.89 L487,168.96 L487.24,169.04 L487.48,169.11 L487.72,169.19 L487.96,169.26 L488.2,169.34 L488.44,169.41 L488.68,169.49 L488.92,169.56 L489.16,169.63 L489.4,169.71 L489.64,169.78 L489.88,169.85 L490.12,169.92 L490.36,169.99 L490.6,170.06 L490.84,170.13 L491.08,170.2 L491.32,170.27 L491.56,170.34 L491.8,170.41 L492.04,170.48 L492.28,170.55 L492.52,170.62 L492.76,170.69 L493,170.75 L493.24,170.82 L493.48,170.89 L493.72,170.95 L493.96,171.02 L494.2,171.09 L494.44,171.15 L494.68,171.22 L494.92,171.28 L495.16,171.35 L495.4,171.41 L495.64,171.48 L495.88,171.54 L496.12,171.6 L496.36,171.67 L496.6,171.73 L496.84,171.79 L497.08,171.86 L497.32,171.92 L497.56,171.98 L497.8,172.04 L498.04,172.1 L498.28,172.16 L498.52,172.23 L498.76,172.29 L499,172.35 L499.24,172.41 L499.48,172.47 L499.72,172.53 L499.96,172.59 L500.2,172.64 L500.44,172.7 L500.68,172.76 L500.92,172.82 L501.16,172.88 L501.4,172.94 L501.64,172.99 L501.88,173.05 L502.12,173.11 L502.36,173.17 L502.6,173.22 L502.84,173.28 L503.08,173.34 L503.32,173.39 L503.56,173.45 L503.8,173.5 L504.04,173.56 L504.28,173.61 L504.52,173.67 L504.76,173.72 L505,173.78 L505.24,173.83 L505.48,173.89 L505.72,173.94 L505.96,173.99 L506.2,174.05 L506.44,174.1 L506.68,174.15 L506.92,174.21 L507.16,174.26 L507.4,174.31 L507.64,174.36 L507.88,174.42 L508.12,174.47 L508.36,174.52 L508.6,174.57 L508.84,174.62 L509.08,174.67 L509.32,174.72 L509.56,174.78 L509.8,174.83 L510.04,174.88 L510.28,174.93 L510.52,174.98 L510.76,175.03 L511,175.08 L511.24,175.13 L511.48,175.18 L511.72,175.22 L511.96,175.27 L512.2,175.32 L512.44,175.37 L512.68,175.42 L512.92,175.47 L513.16,175.52 L513.4,175.56 L513.64,175.61 L513.88,175.66 L514.12,175.71 L514.36,175.75 L514.6,175.8 L514.84,175.85 L515.08,175.9 L515.32,175.94 L515.56,175.99 L515.8,176.04 L516.04,176.08 L516.28,176.13 L516.52,176.17 L516.76,176.22 L517,176.26 L517.24,176.31 L517.48,176.36 L517.72,176.4 L517.96,176.45 L518.2,176.49 L518.44,176.54 L518.68,176.58 L518.92,176.62 L519.16,176.67 L519.4,176.71 L519.64,176.76 L519.88,176.8 L520.12,176.84 L520.36,176.89 L520.6,176.93 L520.84,176.98 L521.08,177.02 L521.32,177.06 L521.56,177.1 L521.8,177.15 L522.04,177.19 L522.28,177.23 L522.52,177.27 L522.76,177.32 L523,177.36 L523.24,177.4 L523.48,177.44 L523.72,177.48 L523.96,177.53 L524.2,177.57 L524.44,177.61 L524.68,177.65 L524.92,177.69 L525.16,177.73 L525.4,177.77 L525.64,177.81 L525.88,177.86 L526.12,177.9 L526.36,177.94 L526.6,177.98 L526.84,178.02 L527.08,178.06 L527.32,178.1 L527.56,178.14 L527.8,178.18 L528.04,178.22 L528.28,178.26 L528.52,178.29 L528.76,178.33 L529,178.37 L529.24,178.41 L529.48,178.45 L529.72,178.49 L529.96,178.53 L530.2,178.57 L530.44,178.61 L530.68,178.64 L530.92,178.68 L531.16,178.72 L531.4,178.76 L531.64,178.8 L531.88,178.83 L532.12,178.87 L532.36,178.91 L532.6,178.95 L532.84,178.98 L533.08,179.02 L533.32,179.06 L533.56,179.1 L533.8,179.13 L534.04,179.17 L534.28,179.21 L534.52,179.24 L534.76,179.28 L535,179.32 L535.24,179.35 L535.48,179.39 L535.72,179.43 L535.96,179.46 L536.2,179.5 L536.44,179.53 L536.68,179.57 L536.92,179.61 L537.16,179.64 L537.4,179.68 L537.64,179.71 L537.88,179.75 L538.12,179.78 L538.36,179.82 L538.6,179.85 L538.84,179.89 L539.08,179.92 L539.32,179.96 L539.56,179.99 L539.8,180.03 L540.04,180.06 L540.28,180.1 L540.52,180.13 L540.76,180.16 L541,180.2 L541.24,180.23 L541.48,180.27 L541.72,180.3 L541.96,180.33 L542.2,180.37 L542.44,180.4 L542.68,180.44 L542.92,180.47 L543.16,180.5 L543.4,180.54 L543.64,180.57 L543.88,180.6 L544.12,180.64 L544.36,180.67 L544.6,180.7" stroke="#3A78D6" stroke-width="2" fill="none" stroke-linejoin="round"/>
<path d="M352.6,182.18 L352.84,182.12 L353.08,182.07 L353.32,182.01 L353.56,181.96 L353.8,181.9 L354.04,181.85 L354.28,181.8 L354.52,181.74 L354.76,181.69 L355,181.63 L355.24,181.58 L355.48,181.52 L355.72,181.46 L355.96,181.41 L356.2,181.35 L356.44,181.3 L356.68,181.24 L356.92,181.18 L357.16,181.13 L357.4,181.07 L357.64,181.01 L357.88,180.96 L358.12,180.9 L358.36,180.84 L358.6,180.79 L358.84,180.73 L359.08,180.67 L359.32,180.61 L359.56,180.55 L359.8,180.5 L360.04,180.44 L360.28,180.38 L360.52,180.32 L360.76,180.26 L361,180.2 L361.24,180.14 L361.48,180.08 L361.72,180.02 L361.96,179.96 L362.2,179.9 L362.44,179.84 L362.68,179.78 L362.92,179.72 L363.16,179.66 L363.4,179.6 L363.64,179.54 L363.88,179.48 L364.12,179.42 L364.36,179.36 L364.6,179.3 L364.84,179.23 L365.08,179.17 L365.32,179.11 L365.56,179.05 L365.8,178.98 L366.04,178.92 L366.28,178.86 L366.52,178.79 L366.76,178.73 L367,178.67 L367.24,178.6 L367.48,178.54 L367.72,178.48 L367.96,178.41 L368.2,178.35 L368.44,178.28 L368.68,178.22 L368.92,178.15 L369.16,178.08 L369.4,178.02 L369.64,177.95 L369.88,177.89 L370.12,177.82 L370.36,177.75 L370.6,177.69 L370.84,177.62 L371.08,177.55 L371.32,177.48 L371.56,177.42 L371.8,177.35 L372.04,177.28 L372.28,177.21 L372.52,177.14 L372.76,177.07 L373,177 L373.24,176.94 L373.48,176.87 L373.72,176.8 L373.96,176.73 L374.2,176.65 L374.44,176.58 L374.68,176.51 L374.92,176.44 L375.16,176.37 L375.4,176.3 L375.64,176.23 L375.88,176.15 L376.12,176.08 L376.36,176.01 L376.6,175.94 L376.84,175.86 L377.08,175.79 L377.32,175.71 L377.56,175.64 L377.8,175.57 L378.04,175.49 L378.28,175.42 L378.52,175.34 L378.76,175.26 L379,175.19 L379.24,175.11 L379.48,175.04 L379.72,174.96 L379.96,174.88 L380.2,174.8 L380.44,174.73 L380.68,174.65 L380.92,174.57 L381.16,174.49 L381.4,174.41 L381.64,174.33 L381.88,174.25 L382.12,174.17 L382.36,174.09 L382.6,174.01 L382.84,173.93 L383.08,173.85 L383.32,173.77 L383.56,173.68 L383.8,173.6 L384.04,173.52 L384.28,173.43 L384.52,173.35 L384.76,173.27 L385,173.18 L385.24,173.1 L385.48,173.01 L385.72,172.93 L385.96,172.84 L386.2,172.75 L386.44,172.67 L386.68,172.58 L386.92,172.49 L387.16,172.4 L387.4,172.32 L387.64,172.23 L387.88,172.14 L388.12,172.05 L388.36,171.96 L388.6,171.87 L388.84,171.78 L389.08,171.69 L389.32,171.59 L389.56,171.5 L389.8,171.41 L390.04,171.32 L390.28,171.22 L390.52,171.13 L390.76,171.03 L391,170.94 L391.24,170.84 L391.48,170.75 L391.72,170.65 L391.96,170.55 L392.2,170.45 L392.44,170.36 L392.68,170.26 L392.92,170.16 L393.16,170.06 L393.4,169.96 L393.64,169.86 L393.88,169.76 L394.12,169.65 L394.36,169.55 L394.6,169.45 L394.84,169.34 L395.08,169.24 L395.32,169.14 L395.56,169.03 L395.8,168.92 L396.04,168.82 L396.28,168.71 L396.52,168.6 L396.76,168.49 L397,168.38 L397.24,168.27 L397.48,168.16 L397.72,168.05 L397.96,167.94 L398.2,167.83 L398.44,167.71 L398.68,167.6 L398.92,167.49 L399.16,167.37 L399.4,167.25 L399.64,167.14 L399.88,167.02 L400.12,166.9 L400.36,166.78 L400.6,166.66 L400.84,166.54 L401.08,166.42 L401.32,166.3 L401.56,166.17 L401.8,166.05 L402.04,165.93 L402.28,165.8 L402.52,165.67 L402.76,165.55 L403,165.42 L403.24,165.29 L403.48,165.16 L403.72,165.03 L403.96,164.89 L404.2,164.76 L404.44,164.63 L404.68,164.49 L404.92,164.36 L405.16,164.22 L405.4,164.08 L405.64,163.94 L405.88,163.8 L406.12,163.66 L406.36,163.52 L406.6,163.37 L406.84,163.23 L407.08,163.08 L407.32,162.93 L407.56,162.79 L407.8,162.64 L408.04,162.49 L408.28,162.33 L408.52,162.18 L408.76,162.03 L409,161.87 L409.24,161.71 L409.48,161.55 L409.72,161.39 L409.96,161.23 L410.2,161.07 L410.44,160.9 L410.68,160.74 L410.92,160.57 L411.16,160.4 L411.4,160.23 L411.64,160.06 L411.88,159.89 L412.12,159.71 L412.36,159.53 L412.6,159.35 L412.84,159.17 L413.08,158.99 L413.32,158.81 L413.56,158.62 L413.8,158.43 L414.04,158.24 L414.28,158.05 L414.52,157.86 L414.76,157.66 L415,157.46 L415.24,157.26 L415.48,157.06 L415.72,156.85 L415.96,156.65 L416.2,156.44 L416.44,156.23 L416.68,156.01 L416.92,155.8 L417.16,155.58 L417.4,155.35 L417.64,155.13 L417.88,154.9 L418.12,154.67 L418.36,154.44 L418.6,154.2 L418.84,153.97 L419.08,153.72 L419.32,153.48 L419.56,153.23 L419.8,152.98 L420.04,152.73 L420.28,152.47 L420.52,152.21 L420.76,151.95 L421,151.68 L421.24,151.41 L421.48,151.13 L421.72,150.85 L421.96,150.57 L422.2,150.28 L422.44,149.99 L422.68,149.7 L422.92,149.4 L423.16,149.1 L423.4,148.79 L423.64,148.48 L423.88,148.16 L424.12,147.84 L424.36,147.52 L424.6,147.19 L424.84,146.85 L425.08,146.52 L425.32,146.17 L425.56,145.83 L425.8,145.47 L426.04,145.12 L426.28,144.76 L426.52,144.39 L426.76,144.02 L427,143.65 L427.24,143.28 L427.48,142.9 L427.72,142.51 L427.96,142.13 L428.2,141.74 L428.44,141.35 L428.68,140.96 L428.92,140.57 L429.16,140.18 L429.4,139.8 L429.64,139.41 L429.88,139.03 L430.12,138.66 L430.36,138.29 L430.6,137.94 L430.84,137.59 L431.08,137.26 L431.32,136.94 L431.56,136.65 L431.8,136.37 L432.04,136.12 L432.28,135.89 L432.52,135.69 L432.76,135.52 L433,135.38 L433.24,135.28 L433.48,135.21 L433.72,135.18 L433.82,135.17 L433.96,135.18 L434.2,135.22 L434.44,135.29 L434.68,135.39 L434.92,135.52 L435.16,135.69 L435.4,135.88 L435.64,136.1 L435.88,136.34 L436.12,136.6 L436.36,136.88 L436.6,137.17 L436.84,137.48 L437.08,137.81 L437.32,138.14 L437.56,138.48 L437.8,138.83 L438.04,139.18 L438.28,139.54 L438.52,139.9 L438.76,140.26 L439,140.63 L439.24,140.99 L439.48,141.35 L439.72,141.71 L439.96,142.07 L440.2,142.43 L440.44,142.78 L440.63,143.06 L440.68,143.13 L440.92,143.47 L441.16,143.82 L441.4,144.16 L441.64,144.49 L441.88,144.82 L442.12,145.15 L442.36,145.47 L442.6,145.79 L442.84,146.1 L443.08,146.41 L443.32,146.72 L443.56,147.02 L443.8,147.32 L444.04,147.61 L444.28,147.9 L444.52,148.18 L444.76,148.46 L445,148.74 L445.24,149.01 L445.48,149.28 L445.72,149.55 L445.96,149.81 L446.2,150.07 L446.44,150.32 L446.68,150.57 L446.92,150.82 L447.16,151.06 L447.4,151.31 L447.64,151.54 L447.88,151.78 L448.12,152.01 L448.22,152.1 L448.36,152.24 L448.6,152.46 L448.84,152.69 L449.08,152.91 L449.32,153.12 L449.56,153.34 L449.8,153.55 L450.04,153.76 L450.28,153.97 L450.52,154.17 L450.76,154.37 L451,154.57 L451.24,154.77 L451.48,154.96 L451.72,155.16 L451.96,155.35 L452.2,155.53 L452.44,155.72 L452.68,155.9 L452.92,156.09 L453.16,156.27 L453.4,156.44 L453.64,156.62 L453.88,156.79 L454.12,156.97 L454.36,157.14 L454.6,157.3 L454.84,157.47 L455.08,157.64 L455.32,157.8 L455.56,157.96 L455.8,158.12 L456.04,158.28 L456.28,158.44 L456.52,158.59 L456.76,158.75 L457,158.9 L457.24,159.05 L457.48,159.2 L457.72,159.35 L457.96,159.49 L458.2,159.64 L458.44,159.78 L458.68,159.93 L458.92,160.07 L459.16,160.21 L459.4,160.35 L459.64,160.49 L459.88,160.62 L460.12,160.76 L460.36,160.89 L460.6,161.03 L460.84,161.16 L461.08,161.29 L461.32,161.42 L461.56,161.55 L461.8,161.67 L462.04,161.8 L462.28,161.93 L462.52,162.05 L462.76,162.17 L463,162.3 L463.24,162.42 L463.48,162.54 L463.72,162.66 L463.96,162.78 L464.2,162.9 L464.44,163.01 L464.68,163.13 L464.92,163.24 L465.16,163.36 L465.4,163.47 L465.64,163.58 L465.88,163.7 L466.12,163.81 L466.36,163.92 L466.6,164.03 L466.84,164.14 L467.08,164.24 L467.32,164.35 L467.56,164.46 L467.8,164.56 L468.04,164.67 L468.28,164.77 L468.52,164.88 L468.76,164.98 L469,165.08 L469.24,165.18 L469.48,165.28 L469.72,165.38 L469.96,165.48 L470.2,165.58 L470.44,165.68 L470.68,165.78 L470.92,165.87 L471.16,165.97 L471.4,166.06 L471.64,166.16 L471.88,166.25 L472.12,166.35 L472.36,166.44 L472.6,166.53 L472.84,166.63 L473.08,166.72 L473.32,166.81 L473.56,166.9 L473.8,166.99 L474.04,167.08 L474.28,167.17 L474.52,167.25 L474.76,167.34 L475,167.43 L475.24,167.52 L475.48,167.6 L475.72,167.69 L475.96,167.77 L476.2,167.86 L476.44,167.94 L476.68,168.03 L476.92,168.11 L477.16,168.19 L477.4,168.27 L477.64,168.36 L477.88,168.44 L478.12,168.52 L478.36,168.6 L478.6,168.68 L478.84,168.76 L479.08,168.84 L479.32,168.92 L479.56,169 L479.8,169.07 L480.04,169.15 L480.28,169.23 L480.52,169.31 L480.76,169.38 L481,169.46 L481.24,169.53 L481.48,169.61 L481.72,169.68 L481.96,169.76 L482.2,169.83 L482.44,169.91 L482.68,169.98 L482.92,170.05 L483.16,170.13 L483.4,170.2 L483.64,170.27 L483.88,170.34 L484.12,170.41 L484.36,170.48 L484.6,170.55 L484.84,170.62 L485.08,170.69 L485.32,170.76 L485.56,170.83 L485.8,170.9 L486.04,170.97 L486.28,171.04 L486.52,171.11 L486.76,171.17 L487,171.24 L487.24,171.31 L487.48,171.37 L487.72,171.44 L487.96,171.51 L488.2,171.57 L488.44,171.64 L488.68,171.7 L488.92,171.77 L489.16,171.83 L489.4,171.9 L489.64,171.96 L489.88,172.02 L490.12,172.09 L490.36,172.15 L490.6,172.21 L490.84,172.28 L491.08,172.34 L491.32,172.4 L491.56,172.46 L491.8,172.52 L492.04,172.59 L492.28,172.65 L492.52,172.71 L492.76,172.77 L493,172.83 L493.24,172.89 L493.48,172.95 L493.72,173.01 L493.96,173.07 L494.2,173.13 L494.44,173.18 L494.68,173.24 L494.92,173.3 L495.16,173.36 L495.4,173.42 L495.64,173.47 L495.88,173.53 L496.12,173.59 L496.36,173.65 L496.6,173.7 L496.84,173.76 L497.08,173.82 L497.32,173.87 L497.56,173.93 L497.8,173.98 L498.04,174.04 L498.28,174.09 L498.52,174.15 L498.76,174.2 L499,174.26 L499.24,174.31 L499.48,174.37 L499.72,174.42 L499.96,174.47 L500.2,174.53 L500.44,174.58 L500.68,174.63 L500.92,174.69 L501.16,174.74 L501.4,174.79 L501.64,174.84 L501.88,174.9 L502.12,174.95 L502.36,175 L502.6,175.05 L502.84,175.1 L503.08,175.15 L503.32,175.2 L503.56,175.26 L503.8,175.31 L504.04,175.36 L504.28,175.41 L504.52,175.46 L504.76,175.51 L505,175.56 L505.24,175.61 L505.48,175.66 L505.72,175.7 L505.96,175.75 L506.2,175.8 L506.44,175.85 L506.68,175.9 L506.92,175.95 L507.16,176 L507.4,176.04 L507.64,176.09 L507.88,176.14 L508.12,176.19 L508.36,176.24 L508.6,176.28 L508.84,176.33 L509.08,176.38 L509.32,176.42 L509.56,176.47 L509.8,176.52 L510.04,176.56 L510.28,176.61 L510.52,176.65 L510.76,176.7 L511,176.75 L511.24,176.79 L511.48,176.84 L511.72,176.88 L511.96,176.93 L512.2,176.97 L512.44,177.02 L512.68,177.06 L512.92,177.11 L513.16,177.15 L513.4,177.2 L513.64,177.24 L513.88,177.28 L514.12,177.33 L514.36,177.37 L514.6,177.41 L514.84,177.46 L515.08,177.5 L515.32,177.54 L515.56,177.59 L515.8,177.63 L516.04,177.67 L516.28,177.72 L516.52,177.76 L516.76,177.8 L517,177.84 L517.24,177.89 L517.48,177.93 L517.72,177.97 L517.96,178.01 L518.2,178.05 L518.44,178.09 L518.68,178.14 L518.92,178.18 L519.16,178.22 L519.4,178.26 L519.64,178.3 L519.88,178.34 L520.12,178.38 L520.36,178.42 L520.6,178.46 L520.84,178.5 L521.08,178.54 L521.32,178.58 L521.56,178.62 L521.8,178.66 L522.04,178.7 L522.28,178.74 L522.52,178.78 L522.76,178.82 L523,178.86 L523.24,178.9 L523.48,178.94 L523.72,178.98 L523.96,179.02 L524.2,179.06 L524.44,179.09 L524.68,179.13 L524.92,179.17 L525.16,179.21 L525.4,179.25 L525.64,179.29 L525.88,179.32 L526.12,179.36 L526.36,179.4 L526.6,179.44 L526.84,179.47 L527.08,179.51 L527.32,179.55 L527.56,179.59 L527.8,179.62 L528.04,179.66 L528.28,179.7 L528.52,179.73 L528.76,179.77 L529,179.81 L529.24,179.84 L529.48,179.88 L529.72,179.92 L529.96,179.95 L530.2,179.99 L530.44,180.03 L530.68,180.06 L530.92,180.1 L531.16,180.13 L531.4,180.17 L531.64,180.2 L531.88,180.24 L532.12,180.28 L532.36,180.31 L532.6,180.35 L532.84,180.38 L533.08,180.42 L533.32,180.45 L533.56,180.49 L533.8,180.52 L534.04,180.56 L534.28,180.59 L534.52,180.63 L534.76,180.66 L535,180.69 L535.24,180.73 L535.48,180.76 L535.72,180.8 L535.96,180.83 L536.2,180.86 L536.44,180.9 L536.68,180.93 L536.92,180.97 L537.16,181 L537.4,181.03 L537.64,181.07 L537.88,181.1 L538.12,181.13 L538.36,181.17 L538.6,181.2 L538.84,181.23 L539.08,181.27 L539.32,181.3 L539.56,181.33 L539.8,181.36 L540.04,181.4 L540.28,181.43 L540.52,181.46 L540.76,181.49 L541,181.53 L541.24,181.56 L541.48,181.59 L541.72,181.62 L541.96,181.66 L542.2,181.69 L542.44,181.72 L542.68,181.75 L542.92,181.78 L543.16,181.81 L543.4,181.85 L543.64,181.88 L543.88,181.91 L544.12,181.94 L544.36,181.97 L544.6,182" stroke="#88287F" stroke-width="2" fill="none" stroke-linejoin="round"/>
<rect x="362.3" y="193.3" width="123.2" height="9.7" fill="#fff" stroke="#d0d0d0" stroke-width="0.7"/>
<path d="M364.1,197.9H379.5" stroke="#F8553F" stroke-width="2"/>
<text x="381.4" y="200.5" class="t" font-size="7.3">Code 1</text>
<path d="M405.9,197.9H421.4" stroke="#3A78D6" stroke-width="2"/>
<text x="423.5" y="200.5" class="t" font-size="7.3">Code 2</text>
<path d="M445.9,197.9H461.5" stroke="#88287F" stroke-width="2"/>
<text x="463.5" y="200.5" class="t" font-size="7.3">Code 3</text>
<rect x="475.3" y="131.4" width="52.6" height="12.7" fill="#fff" stroke="#cfcfcf" stroke-width="0.7"/>
<text x="476.8" y="140.2" class="t b" font-size="8">Post layout S<tspan font-size="5.3" dy="2.7">21</tspan></text>
<path d="M352.6,125H544.6" stroke="#9a9a9a" stroke-width="1.7"/>
<path d="M544.6,125V210.2" stroke="#888" stroke-width="1.2"/>
<path d="M352.6,124.4V210.2" stroke="#333" stroke-width="0.9"/>
<path d="M352.6,210.2H545.1" stroke="#333" stroke-width="0.9"/>
<path d="M352.6,206.79h1.6M352.6,203.38h1.6M352.6,199.98h1.6M352.6,196.57h1.6M352.6,193.16h2.6M352.6,189.75h1.6M352.6,186.34h1.6M352.6,182.94h1.6M352.6,179.53h1.6M352.6,176.12h2.6M352.6,172.71h1.6M352.6,169.3h1.6M352.6,165.9h1.6M352.6,162.49h1.6M352.6,159.08h2.6M352.6,155.67h1.6M352.6,152.26h1.6M352.6,148.86h1.6M352.6,145.45h1.6M352.6,142.04h2.6M352.6,138.63h1.6M352.6,135.22h1.6M352.6,131.82h1.6M352.6,128.41h1.6M362.2,210.2v-1.6M371.8,210.2v-1.6M381.4,210.2v-1.6M391,210.2v-1.6M400.6,210.2v-2.6M410.2,210.2v-1.6M419.8,210.2v-1.6M429.4,210.2v-1.6M439,210.2v-1.6M448.6,210.2v-2.6M458.2,210.2v-1.6M467.8,210.2v-1.6M477.4,210.2v-1.6M487,210.2v-1.6M496.6,210.2v-2.6M506.2,210.2v-1.6M515.8,210.2v-1.6M525.4,210.2v-1.6M535,210.2v-1.6" stroke="#333" stroke-width="0.8"/>
<text x="351.2" y="212.9" class="t" font-size="7.8" text-anchor="end">-30</text>
<text x="351.2" y="195.86" class="t" font-size="7.8" text-anchor="end">-20</text>
<text x="351.2" y="178.82" class="t" font-size="7.8" text-anchor="end">-10</text>
<text x="351.2" y="161.78" class="t" font-size="7.8" text-anchor="end">0</text>
<text x="351.2" y="144.74" class="t" font-size="7.8" text-anchor="end">10</text>
<text x="351.2" y="127.7" class="t" font-size="7.8" text-anchor="end">20</text>
<text x="352.6" y="218.7" class="t" font-size="7.8" text-anchor="middle">4</text>
<text x="400.6" y="218.7" class="t" font-size="7.8" text-anchor="middle">4.5</text>
<text x="448.6" y="218.7" class="t" font-size="7.8" text-anchor="middle">5</text>
<text x="496.6" y="218.7" class="t" font-size="7.8" text-anchor="middle">5.5</text>
<text x="544.6" y="218.7" class="t" font-size="7.8" text-anchor="middle">6</text>
<text x="409.6" y="234.1" class="t b" font-size="10.9" textLength="78" lengthAdjust="spacingAndGlyphs">Frequency (GHz)</text>
<text transform="translate(330.2,183.6) rotate(-90)" class="t b" font-size="10.9">S<tspan font-size="7" dy="3.2">21</tspan><tspan dy="-3.2"> (dB)</tspan></text>
<text x="442" y="264.6" class="t b" font-size="12" text-anchor="middle">(b)</text>
</svg>
</body></html>
